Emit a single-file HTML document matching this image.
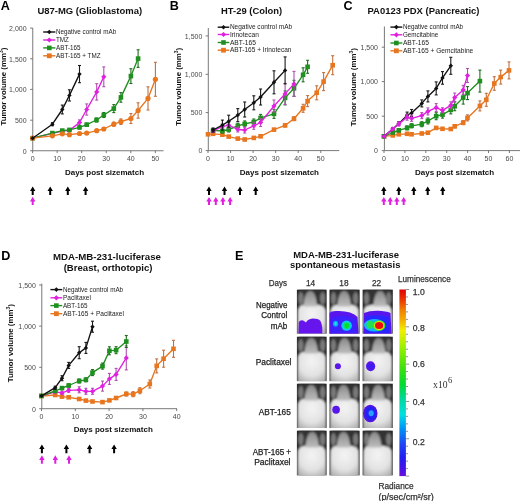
<!DOCTYPE html>
<html><head><meta charset="utf-8"><style>
html,body{margin:0;padding:0;background:#fff;}
body{width:520px;height:501px;overflow:hidden;}
svg{display:block;filter:blur(0.3px);}
</style></head><body>
<svg width="520" height="501" viewBox="0 0 520 501">
<rect width="520" height="501" fill="#fff"/>
<text x="5.40" y="9.81" font-size="12.6" font-weight="bold" text-anchor="middle" fill="#000" font-family="Liberation Sans, sans-serif" >A</text>
<text x="174.20" y="9.81" font-size="12.6" font-weight="bold" text-anchor="middle" fill="#000" font-family="Liberation Sans, sans-serif" >B</text>
<text x="348.10" y="9.81" font-size="12.6" font-weight="bold" text-anchor="middle" fill="#000" font-family="Liberation Sans, sans-serif" >C</text>
<text x="5.80" y="259.61" font-size="12.6" font-weight="bold" text-anchor="middle" fill="#000" font-family="Liberation Sans, sans-serif" >D</text>
<text x="239.25" y="260.16" font-size="12.6" font-weight="bold" text-anchor="middle" fill="#000" font-family="Liberation Sans, sans-serif" >E</text>
<text x="89.75" y="13.99" font-size="9.6" font-weight="bold" text-anchor="middle" fill="#111" font-family="Liberation Sans, sans-serif"  textLength="104.7" lengthAdjust="spacingAndGlyphs">U87-MG (Glioblastoma)</text>
<text x="251.60" y="13.94" font-size="9.6" font-weight="bold" text-anchor="middle" fill="#111" font-family="Liberation Sans, sans-serif"  textLength="61" lengthAdjust="spacingAndGlyphs">HT-29 (Colon)</text>
<text x="423.50" y="14.04" font-size="9.6" font-weight="bold" text-anchor="middle" fill="#111" font-family="Liberation Sans, sans-serif"  textLength="112" lengthAdjust="spacingAndGlyphs">PA0123 PDX (Pancreatic)</text>
<text x="107.00" y="259.84" font-size="9.6" font-weight="bold" text-anchor="middle" fill="#111" font-family="Liberation Sans, sans-serif"  textLength="108" lengthAdjust="spacingAndGlyphs">MDA-MB-231-luciferase</text>
<text x="108.10" y="271.04" font-size="9.6" font-weight="bold" text-anchor="middle" fill="#111" font-family="Liberation Sans, sans-serif"  textLength="88.8" lengthAdjust="spacingAndGlyphs">(Breast, orthotopic)</text>
<line x1="32.75" y1="28.00" x2="32.75" y2="150.75" stroke="#6a6a6a" stroke-width="0.9" />
<line x1="32.75" y1="150.75" x2="163.50" y2="150.75" stroke="#6a6a6a" stroke-width="0.9" />
<line x1="30.15" y1="150.75" x2="32.75" y2="150.75" stroke="#6a6a6a" stroke-width="0.9" />
<line x1="30.15" y1="120.20" x2="32.75" y2="120.20" stroke="#6a6a6a" stroke-width="0.9" />
<line x1="30.15" y1="89.40" x2="32.75" y2="89.40" stroke="#6a6a6a" stroke-width="0.9" />
<line x1="30.15" y1="58.80" x2="32.75" y2="58.80" stroke="#6a6a6a" stroke-width="0.9" />
<line x1="30.15" y1="28.10" x2="32.75" y2="28.10" stroke="#6a6a6a" stroke-width="0.9" />
<line x1="32.60" y1="150.75" x2="32.60" y2="153.15" stroke="#6a6a6a" stroke-width="0.9" />
<line x1="57.15" y1="150.75" x2="57.15" y2="153.15" stroke="#6a6a6a" stroke-width="0.9" />
<line x1="81.70" y1="150.75" x2="81.70" y2="153.15" stroke="#6a6a6a" stroke-width="0.9" />
<line x1="106.25" y1="150.75" x2="106.25" y2="153.15" stroke="#6a6a6a" stroke-width="0.9" />
<line x1="130.80" y1="150.75" x2="130.80" y2="153.15" stroke="#6a6a6a" stroke-width="0.9" />
<line x1="155.35" y1="150.75" x2="155.35" y2="153.15" stroke="#6a6a6a" stroke-width="0.9" />
<text x="26.60" y="153.63" font-size="7.0" font-weight="normal" text-anchor="end" fill="#4a4a4a" font-family="Liberation Sans, sans-serif"  transform="matrix(1 0 0 1.15 0 -23.045)">0</text>
<text x="26.60" y="123.08" font-size="7.0" font-weight="normal" text-anchor="end" fill="#4a4a4a" font-family="Liberation Sans, sans-serif"  transform="matrix(1 0 0 1.15 0 -18.462)">500</text>
<text x="26.60" y="92.28" font-size="7.0" font-weight="normal" text-anchor="end" fill="#4a4a4a" font-family="Liberation Sans, sans-serif"  transform="matrix(1 0 0 1.15 0 -13.842)">1,000</text>
<text x="26.60" y="61.68" font-size="7.0" font-weight="normal" text-anchor="end" fill="#4a4a4a" font-family="Liberation Sans, sans-serif"  transform="matrix(1 0 0 1.15 0 -9.252)">1,500</text>
<text x="26.60" y="30.98" font-size="7.0" font-weight="normal" text-anchor="end" fill="#4a4a4a" font-family="Liberation Sans, sans-serif"  transform="matrix(1 0 0 1.15 0 -4.647)">2,000</text>
<text x="32.60" y="161.43" font-size="7.0" font-weight="normal" text-anchor="middle" fill="#4a4a4a" font-family="Liberation Sans, sans-serif"  transform="matrix(1 0 0 1.15 0 -24.215)">0</text>
<text x="57.15" y="161.43" font-size="7.0" font-weight="normal" text-anchor="middle" fill="#4a4a4a" font-family="Liberation Sans, sans-serif"  transform="matrix(1 0 0 1.15 0 -24.215)">10</text>
<text x="81.70" y="161.43" font-size="7.0" font-weight="normal" text-anchor="middle" fill="#4a4a4a" font-family="Liberation Sans, sans-serif"  transform="matrix(1 0 0 1.15 0 -24.215)">20</text>
<text x="106.25" y="161.43" font-size="7.0" font-weight="normal" text-anchor="middle" fill="#4a4a4a" font-family="Liberation Sans, sans-serif"  transform="matrix(1 0 0 1.15 0 -24.215)">30</text>
<text x="130.80" y="161.43" font-size="7.0" font-weight="normal" text-anchor="middle" fill="#4a4a4a" font-family="Liberation Sans, sans-serif"  transform="matrix(1 0 0 1.15 0 -24.215)">40</text>
<text x="155.35" y="161.43" font-size="7.0" font-weight="normal" text-anchor="middle" fill="#4a4a4a" font-family="Liberation Sans, sans-serif"  transform="matrix(1 0 0 1.15 0 -24.215)">50</text>
<text transform="translate(5.73,86.60) rotate(-90)" x="0" y="0" font-size="7.9" font-weight="bold" text-anchor="middle" fill="#111" font-family="Liberation Sans">Tumor volume (mm<tspan font-size="4.90" dy="-3.00">3</tspan><tspan dy="3.00">)</tspan></text>
<text x="104.50" y="175.36" font-size="8.0" font-weight="bold" text-anchor="middle" fill="#111" font-family="Liberation Sans, sans-serif" >Days post sizematch</text>
<line x1="43.20" y1="32.00" x2="55.40" y2="32.00" stroke="#111111" stroke-width="1.4" />
<path d="M49.30 29.70L51.60 32.00L49.30 34.30L47.00 32.00Z" fill="#111111"/>
<text x="56.00" y="34.26" font-size="6.3" font-weight="normal" text-anchor="start" fill="#222" font-family="Liberation Sans, sans-serif" >Negative control mAb</text>
<line x1="43.20" y1="40.00" x2="55.40" y2="40.00" stroke="#e020e0" stroke-width="1.4" />
<path d="M49.30 37.40L51.90 40.00L49.30 42.60L46.70 40.00Z" fill="#e020e0"/>
<text x="56.00" y="42.26" font-size="6.3" font-weight="normal" text-anchor="start" fill="#222" font-family="Liberation Sans, sans-serif" >TMZ</text>
<line x1="43.20" y1="47.90" x2="55.40" y2="47.90" stroke="#1f8f1f" stroke-width="1.4" />
<rect x="47.00" y="45.60" width="4.60" height="4.60" fill="#1f8f1f"/>
<text x="56.00" y="50.16" font-size="6.3" font-weight="normal" text-anchor="start" fill="#222" font-family="Liberation Sans, sans-serif" >ABT-165</text>
<line x1="43.20" y1="55.80" x2="55.40" y2="55.80" stroke="#e8761e" stroke-width="1.4" />
<rect x="46.90" y="53.40" width="4.80" height="4.80" fill="#e8761e"/>
<text x="56.00" y="58.06" font-size="6.3" font-weight="normal" text-anchor="start" fill="#222" font-family="Liberation Sans, sans-serif" >ABT-165 + TMZ</text>
<path d="M32.60 138.20L52.40 133.30L62.30 131.00L69.40 130.40L79.50 122.60L86.70 109.50L96.70 91.90L103.80 76.80" fill="none" stroke="#e020e0" stroke-width="1.35" stroke-linejoin="round"/>
<line x1="52.40" y1="132.30" x2="52.40" y2="134.30" stroke="#b050b0" stroke-width="1.1" />
<line x1="50.90" y1="132.30" x2="53.90" y2="132.30" stroke="#b050b0" stroke-width="1.1" />
<line x1="50.90" y1="134.30" x2="53.90" y2="134.30" stroke="#b050b0" stroke-width="1.1" />
<line x1="62.30" y1="130.00" x2="62.30" y2="132.00" stroke="#b050b0" stroke-width="1.1" />
<line x1="60.80" y1="130.00" x2="63.80" y2="130.00" stroke="#b050b0" stroke-width="1.1" />
<line x1="60.80" y1="132.00" x2="63.80" y2="132.00" stroke="#b050b0" stroke-width="1.1" />
<line x1="69.40" y1="129.40" x2="69.40" y2="131.40" stroke="#b050b0" stroke-width="1.1" />
<line x1="67.90" y1="129.40" x2="70.90" y2="129.40" stroke="#b050b0" stroke-width="1.1" />
<line x1="67.90" y1="131.40" x2="70.90" y2="131.40" stroke="#b050b0" stroke-width="1.1" />
<line x1="79.50" y1="119.90" x2="79.50" y2="125.30" stroke="#b050b0" stroke-width="1.1" />
<line x1="78.00" y1="119.90" x2="81.00" y2="119.90" stroke="#b050b0" stroke-width="1.1" />
<line x1="78.00" y1="125.30" x2="81.00" y2="125.30" stroke="#b050b0" stroke-width="1.1" />
<line x1="86.70" y1="103.90" x2="86.70" y2="115.10" stroke="#b050b0" stroke-width="1.1" />
<line x1="85.20" y1="103.90" x2="88.20" y2="103.90" stroke="#b050b0" stroke-width="1.1" />
<line x1="85.20" y1="115.10" x2="88.20" y2="115.10" stroke="#b050b0" stroke-width="1.1" />
<line x1="96.70" y1="83.70" x2="96.70" y2="100.10" stroke="#b050b0" stroke-width="1.1" />
<line x1="95.20" y1="83.70" x2="98.20" y2="83.70" stroke="#b050b0" stroke-width="1.1" />
<line x1="95.20" y1="100.10" x2="98.20" y2="100.10" stroke="#b050b0" stroke-width="1.1" />
<line x1="103.80" y1="66.90" x2="103.80" y2="86.70" stroke="#b050b0" stroke-width="1.1" />
<line x1="102.30" y1="66.90" x2="105.30" y2="66.90" stroke="#b050b0" stroke-width="1.1" />
<line x1="102.30" y1="86.70" x2="105.30" y2="86.70" stroke="#b050b0" stroke-width="1.1" />
<path d="M32.60 135.60L35.20 138.20L32.60 140.80L30.00 138.20Z" fill="#e020e0"/>
<path d="M52.40 130.70L55.00 133.30L52.40 135.90L49.80 133.30Z" fill="#e020e0"/>
<path d="M62.30 128.40L64.90 131.00L62.30 133.60L59.70 131.00Z" fill="#e020e0"/>
<path d="M69.40 127.80L72.00 130.40L69.40 133.00L66.80 130.40Z" fill="#e020e0"/>
<path d="M79.50 120.00L82.10 122.60L79.50 125.20L76.90 122.60Z" fill="#e020e0"/>
<path d="M86.70 106.90L89.30 109.50L86.70 112.10L84.10 109.50Z" fill="#e020e0"/>
<path d="M96.70 89.30L99.30 91.90L96.70 94.50L94.10 91.90Z" fill="#e020e0"/>
<path d="M103.80 74.20L106.40 76.80L103.80 79.40L101.20 76.80Z" fill="#e020e0"/>
<path d="M32.60 138.20L52.40 133.10L62.30 130.60L69.40 129.90L79.50 127.40L86.70 124.70L96.50 120.00L103.80 115.00L113.80 108.60L120.90 97.40L130.90 76.10L138.10 58.60" fill="none" stroke="#1f8f1f" stroke-width="1.35" stroke-linejoin="round"/>
<line x1="52.40" y1="132.10" x2="52.40" y2="134.10" stroke="#1e6e1e" stroke-width="1.1" />
<line x1="50.90" y1="132.10" x2="53.90" y2="132.10" stroke="#1e6e1e" stroke-width="1.1" />
<line x1="50.90" y1="134.10" x2="53.90" y2="134.10" stroke="#1e6e1e" stroke-width="1.1" />
<line x1="62.30" y1="129.60" x2="62.30" y2="131.60" stroke="#1e6e1e" stroke-width="1.1" />
<line x1="60.80" y1="129.60" x2="63.80" y2="129.60" stroke="#1e6e1e" stroke-width="1.1" />
<line x1="60.80" y1="131.60" x2="63.80" y2="131.60" stroke="#1e6e1e" stroke-width="1.1" />
<line x1="69.40" y1="128.90" x2="69.40" y2="130.90" stroke="#1e6e1e" stroke-width="1.1" />
<line x1="67.90" y1="128.90" x2="70.90" y2="128.90" stroke="#1e6e1e" stroke-width="1.1" />
<line x1="67.90" y1="130.90" x2="70.90" y2="130.90" stroke="#1e6e1e" stroke-width="1.1" />
<line x1="79.50" y1="125.90" x2="79.50" y2="128.90" stroke="#1e6e1e" stroke-width="1.1" />
<line x1="78.00" y1="125.90" x2="81.00" y2="125.90" stroke="#1e6e1e" stroke-width="1.1" />
<line x1="78.00" y1="128.90" x2="81.00" y2="128.90" stroke="#1e6e1e" stroke-width="1.1" />
<line x1="86.70" y1="123.20" x2="86.70" y2="126.20" stroke="#1e6e1e" stroke-width="1.1" />
<line x1="85.20" y1="123.20" x2="88.20" y2="123.20" stroke="#1e6e1e" stroke-width="1.1" />
<line x1="85.20" y1="126.20" x2="88.20" y2="126.20" stroke="#1e6e1e" stroke-width="1.1" />
<line x1="96.50" y1="118.00" x2="96.50" y2="122.00" stroke="#1e6e1e" stroke-width="1.1" />
<line x1="95.00" y1="118.00" x2="98.00" y2="118.00" stroke="#1e6e1e" stroke-width="1.1" />
<line x1="95.00" y1="122.00" x2="98.00" y2="122.00" stroke="#1e6e1e" stroke-width="1.1" />
<line x1="103.80" y1="112.50" x2="103.80" y2="117.50" stroke="#1e6e1e" stroke-width="1.1" />
<line x1="102.30" y1="112.50" x2="105.30" y2="112.50" stroke="#1e6e1e" stroke-width="1.1" />
<line x1="102.30" y1="117.50" x2="105.30" y2="117.50" stroke="#1e6e1e" stroke-width="1.1" />
<line x1="113.80" y1="104.60" x2="113.80" y2="112.60" stroke="#1e6e1e" stroke-width="1.1" />
<line x1="112.30" y1="104.60" x2="115.30" y2="104.60" stroke="#1e6e1e" stroke-width="1.1" />
<line x1="112.30" y1="112.60" x2="115.30" y2="112.60" stroke="#1e6e1e" stroke-width="1.1" />
<line x1="120.90" y1="92.60" x2="120.90" y2="102.20" stroke="#1e6e1e" stroke-width="1.1" />
<line x1="119.40" y1="92.60" x2="122.40" y2="92.60" stroke="#1e6e1e" stroke-width="1.1" />
<line x1="119.40" y1="102.20" x2="122.40" y2="102.20" stroke="#1e6e1e" stroke-width="1.1" />
<line x1="130.90" y1="68.70" x2="130.90" y2="83.50" stroke="#1e6e1e" stroke-width="1.1" />
<line x1="129.40" y1="68.70" x2="132.40" y2="68.70" stroke="#1e6e1e" stroke-width="1.1" />
<line x1="129.40" y1="83.50" x2="132.40" y2="83.50" stroke="#1e6e1e" stroke-width="1.1" />
<line x1="138.10" y1="49.80" x2="138.10" y2="67.40" stroke="#1e6e1e" stroke-width="1.1" />
<line x1="136.60" y1="49.80" x2="139.60" y2="49.80" stroke="#1e6e1e" stroke-width="1.1" />
<line x1="136.60" y1="67.40" x2="139.60" y2="67.40" stroke="#1e6e1e" stroke-width="1.1" />
<rect x="30.30" y="135.90" width="4.60" height="4.60" fill="#1f8f1f"/>
<rect x="50.10" y="130.80" width="4.60" height="4.60" fill="#1f8f1f"/>
<rect x="60.00" y="128.30" width="4.60" height="4.60" fill="#1f8f1f"/>
<rect x="67.10" y="127.60" width="4.60" height="4.60" fill="#1f8f1f"/>
<rect x="77.20" y="125.10" width="4.60" height="4.60" fill="#1f8f1f"/>
<rect x="84.40" y="122.40" width="4.60" height="4.60" fill="#1f8f1f"/>
<rect x="94.20" y="117.70" width="4.60" height="4.60" fill="#1f8f1f"/>
<rect x="101.50" y="112.70" width="4.60" height="4.60" fill="#1f8f1f"/>
<rect x="111.50" y="106.30" width="4.60" height="4.60" fill="#1f8f1f"/>
<rect x="118.60" y="95.10" width="4.60" height="4.60" fill="#1f8f1f"/>
<rect x="128.60" y="73.80" width="4.60" height="4.60" fill="#1f8f1f"/>
<rect x="135.80" y="56.30" width="4.60" height="4.60" fill="#1f8f1f"/>
<path d="M32.60 138.20L52.40 135.80L62.30 133.80L69.40 134.70L79.50 133.50L86.70 133.10L96.70 130.70L103.80 129.00L113.80 124.20L120.90 121.70L130.90 118.50L138.10 110.50L148.00 98.40L155.40 79.30" fill="none" stroke="#e8761e" stroke-width="1.35" stroke-linejoin="round"/>
<line x1="96.70" y1="129.70" x2="96.70" y2="131.70" stroke="#c07040" stroke-width="1.1" />
<line x1="95.20" y1="129.70" x2="98.20" y2="129.70" stroke="#c07040" stroke-width="1.1" />
<line x1="95.20" y1="131.70" x2="98.20" y2="131.70" stroke="#c07040" stroke-width="1.1" />
<line x1="103.80" y1="128.00" x2="103.80" y2="130.00" stroke="#c07040" stroke-width="1.1" />
<line x1="102.30" y1="128.00" x2="105.30" y2="128.00" stroke="#c07040" stroke-width="1.1" />
<line x1="102.30" y1="130.00" x2="105.30" y2="130.00" stroke="#c07040" stroke-width="1.1" />
<line x1="113.80" y1="122.20" x2="113.80" y2="126.20" stroke="#c07040" stroke-width="1.1" />
<line x1="112.30" y1="122.20" x2="115.30" y2="122.20" stroke="#c07040" stroke-width="1.1" />
<line x1="112.30" y1="126.20" x2="115.30" y2="126.20" stroke="#c07040" stroke-width="1.1" />
<line x1="120.90" y1="118.90" x2="120.90" y2="124.50" stroke="#c07040" stroke-width="1.1" />
<line x1="119.40" y1="118.90" x2="122.40" y2="118.90" stroke="#c07040" stroke-width="1.1" />
<line x1="119.40" y1="124.50" x2="122.40" y2="124.50" stroke="#c07040" stroke-width="1.1" />
<line x1="130.90" y1="113.50" x2="130.90" y2="123.50" stroke="#c07040" stroke-width="1.1" />
<line x1="129.40" y1="113.50" x2="132.40" y2="113.50" stroke="#c07040" stroke-width="1.1" />
<line x1="129.40" y1="123.50" x2="132.40" y2="123.50" stroke="#c07040" stroke-width="1.1" />
<line x1="138.10" y1="102.80" x2="138.10" y2="118.20" stroke="#c07040" stroke-width="1.1" />
<line x1="136.60" y1="102.80" x2="139.60" y2="102.80" stroke="#c07040" stroke-width="1.1" />
<line x1="136.60" y1="118.20" x2="139.60" y2="118.20" stroke="#c07040" stroke-width="1.1" />
<line x1="148.00" y1="86.80" x2="148.00" y2="110.00" stroke="#c07040" stroke-width="1.1" />
<line x1="146.50" y1="86.80" x2="149.50" y2="86.80" stroke="#c07040" stroke-width="1.1" />
<line x1="146.50" y1="110.00" x2="149.50" y2="110.00" stroke="#c07040" stroke-width="1.1" />
<line x1="155.40" y1="62.30" x2="155.40" y2="96.30" stroke="#c07040" stroke-width="1.1" />
<line x1="153.90" y1="62.30" x2="156.90" y2="62.30" stroke="#c07040" stroke-width="1.1" />
<line x1="153.90" y1="96.30" x2="156.90" y2="96.30" stroke="#c07040" stroke-width="1.1" />
<circle cx="32.60" cy="138.20" r="2.60" fill="#e8761e"/>
<circle cx="52.40" cy="135.80" r="2.60" fill="#e8761e"/>
<circle cx="62.30" cy="133.80" r="2.60" fill="#e8761e"/>
<circle cx="69.40" cy="134.70" r="2.60" fill="#e8761e"/>
<circle cx="79.50" cy="133.50" r="2.60" fill="#e8761e"/>
<circle cx="86.70" cy="133.10" r="2.60" fill="#e8761e"/>
<circle cx="96.70" cy="130.70" r="2.60" fill="#e8761e"/>
<circle cx="103.80" cy="129.00" r="2.60" fill="#e8761e"/>
<circle cx="113.80" cy="124.20" r="2.60" fill="#e8761e"/>
<circle cx="120.90" cy="121.70" r="2.60" fill="#e8761e"/>
<circle cx="130.90" cy="118.50" r="2.60" fill="#e8761e"/>
<circle cx="138.10" cy="110.50" r="2.60" fill="#e8761e"/>
<circle cx="148.00" cy="98.40" r="2.60" fill="#e8761e"/>
<circle cx="155.40" cy="79.30" r="2.60" fill="#e8761e"/>
<path d="M32.60 138.20L52.40 124.20L62.30 109.50L69.40 95.40L79.50 74.10" fill="none" stroke="#111111" stroke-width="1.35" stroke-linejoin="round"/>
<line x1="52.40" y1="122.70" x2="52.40" y2="125.70" stroke="#1a1a1a" stroke-width="1.1" />
<line x1="50.90" y1="122.70" x2="53.90" y2="122.70" stroke="#1a1a1a" stroke-width="1.1" />
<line x1="50.90" y1="125.70" x2="53.90" y2="125.70" stroke="#1a1a1a" stroke-width="1.1" />
<line x1="62.30" y1="105.10" x2="62.30" y2="113.90" stroke="#1a1a1a" stroke-width="1.1" />
<line x1="60.80" y1="105.10" x2="63.80" y2="105.10" stroke="#1a1a1a" stroke-width="1.1" />
<line x1="60.80" y1="113.90" x2="63.80" y2="113.90" stroke="#1a1a1a" stroke-width="1.1" />
<line x1="69.40" y1="89.80" x2="69.40" y2="101.00" stroke="#1a1a1a" stroke-width="1.1" />
<line x1="67.90" y1="89.80" x2="70.90" y2="89.80" stroke="#1a1a1a" stroke-width="1.1" />
<line x1="67.90" y1="101.00" x2="70.90" y2="101.00" stroke="#1a1a1a" stroke-width="1.1" />
<line x1="79.50" y1="65.50" x2="79.50" y2="82.70" stroke="#1a1a1a" stroke-width="1.1" />
<line x1="78.00" y1="65.50" x2="81.00" y2="65.50" stroke="#1a1a1a" stroke-width="1.1" />
<line x1="78.00" y1="82.70" x2="81.00" y2="82.70" stroke="#1a1a1a" stroke-width="1.1" />
<path d="M32.60 136.00L34.80 138.20L32.60 140.40L30.40 138.20Z" fill="#111111"/>
<path d="M52.40 122.00L54.60 124.20L52.40 126.40L50.20 124.20Z" fill="#111111"/>
<path d="M62.30 107.30L64.50 109.50L62.30 111.70L60.10 109.50Z" fill="#111111"/>
<path d="M69.40 93.20L71.60 95.40L69.40 97.60L67.20 95.40Z" fill="#111111"/>
<path d="M79.50 71.90L81.70 74.10L79.50 76.30L77.30 74.10Z" fill="#111111"/>
<path d="M32.70 186.50L35.40 191.10L33.70 191.10L33.70 194.90L31.70 194.90L31.70 191.10L30.00 191.10Z" fill="#000"/>
<path d="M50.20 186.50L52.90 191.10L51.20 191.10L51.20 194.90L49.20 194.90L49.20 191.10L47.50 191.10Z" fill="#000"/>
<path d="M67.80 186.50L70.50 191.10L68.80 191.10L68.80 194.90L66.80 194.90L66.80 191.10L65.10 191.10Z" fill="#000"/>
<path d="M85.60 186.50L88.30 191.10L86.60 191.10L86.60 194.90L84.60 194.90L84.60 191.10L82.90 191.10Z" fill="#000"/>
<path d="M32.70 196.80L35.40 201.40L33.70 201.40L33.70 204.90L31.70 204.90L31.70 201.40L30.00 201.40Z" fill="#e020e0"/>
<line x1="208.30" y1="28.00" x2="208.30" y2="150.60" stroke="#6a6a6a" stroke-width="0.9" />
<line x1="208.30" y1="150.60" x2="339.20" y2="150.60" stroke="#6a6a6a" stroke-width="0.9" />
<line x1="205.70" y1="150.60" x2="208.30" y2="150.60" stroke="#6a6a6a" stroke-width="0.9" />
<line x1="205.70" y1="112.60" x2="208.30" y2="112.60" stroke="#6a6a6a" stroke-width="0.9" />
<line x1="205.70" y1="74.30" x2="208.30" y2="74.30" stroke="#6a6a6a" stroke-width="0.9" />
<line x1="205.70" y1="35.90" x2="208.30" y2="35.90" stroke="#6a6a6a" stroke-width="0.9" />
<line x1="208.00" y1="150.60" x2="208.00" y2="153.00" stroke="#6a6a6a" stroke-width="0.9" />
<line x1="230.55" y1="150.60" x2="230.55" y2="153.00" stroke="#6a6a6a" stroke-width="0.9" />
<line x1="253.10" y1="150.60" x2="253.10" y2="153.00" stroke="#6a6a6a" stroke-width="0.9" />
<line x1="275.65" y1="150.60" x2="275.65" y2="153.00" stroke="#6a6a6a" stroke-width="0.9" />
<line x1="298.20" y1="150.60" x2="298.20" y2="153.00" stroke="#6a6a6a" stroke-width="0.9" />
<line x1="320.75" y1="150.60" x2="320.75" y2="153.00" stroke="#6a6a6a" stroke-width="0.9" />
<text x="202.30" y="153.48" font-size="7.0" font-weight="normal" text-anchor="end" fill="#4a4a4a" font-family="Liberation Sans, sans-serif"  transform="matrix(1 0 0 1.15 0 -23.022)">0</text>
<text x="202.30" y="115.48" font-size="7.0" font-weight="normal" text-anchor="end" fill="#4a4a4a" font-family="Liberation Sans, sans-serif"  transform="matrix(1 0 0 1.15 0 -17.322)">500</text>
<text x="202.30" y="77.18" font-size="7.0" font-weight="normal" text-anchor="end" fill="#4a4a4a" font-family="Liberation Sans, sans-serif"  transform="matrix(1 0 0 1.15 0 -11.577)">1,000</text>
<text x="202.30" y="38.78" font-size="7.0" font-weight="normal" text-anchor="end" fill="#4a4a4a" font-family="Liberation Sans, sans-serif"  transform="matrix(1 0 0 1.15 0 -5.817)">1,500</text>
<text x="208.00" y="161.28" font-size="7.0" font-weight="normal" text-anchor="middle" fill="#4a4a4a" font-family="Liberation Sans, sans-serif"  transform="matrix(1 0 0 1.15 0 -24.192)">0</text>
<text x="230.55" y="161.28" font-size="7.0" font-weight="normal" text-anchor="middle" fill="#4a4a4a" font-family="Liberation Sans, sans-serif"  transform="matrix(1 0 0 1.15 0 -24.192)">10</text>
<text x="253.10" y="161.28" font-size="7.0" font-weight="normal" text-anchor="middle" fill="#4a4a4a" font-family="Liberation Sans, sans-serif"  transform="matrix(1 0 0 1.15 0 -24.192)">20</text>
<text x="275.65" y="161.28" font-size="7.0" font-weight="normal" text-anchor="middle" fill="#4a4a4a" font-family="Liberation Sans, sans-serif"  transform="matrix(1 0 0 1.15 0 -24.192)">30</text>
<text x="298.20" y="161.28" font-size="7.0" font-weight="normal" text-anchor="middle" fill="#4a4a4a" font-family="Liberation Sans, sans-serif"  transform="matrix(1 0 0 1.15 0 -24.192)">40</text>
<text x="320.75" y="161.28" font-size="7.0" font-weight="normal" text-anchor="middle" fill="#4a4a4a" font-family="Liberation Sans, sans-serif"  transform="matrix(1 0 0 1.15 0 -24.192)">50</text>
<text transform="translate(181.13,86.75) rotate(-90)" x="0" y="0" font-size="7.9" font-weight="bold" text-anchor="middle" fill="#111" font-family="Liberation Sans">Tumor volume (mm<tspan font-size="4.90" dy="-3.00">3</tspan><tspan dy="3.00">)</tspan></text>
<text x="279.40" y="175.46" font-size="8.0" font-weight="bold" text-anchor="middle" fill="#111" font-family="Liberation Sans, sans-serif" >Days post sizematch</text>
<line x1="217.70" y1="27.20" x2="229.30" y2="27.20" stroke="#111111" stroke-width="1.4" />
<path d="M223.50 24.90L225.80 27.20L223.50 29.50L221.20 27.20Z" fill="#111111"/>
<text x="229.90" y="29.46" font-size="6.3" font-weight="normal" text-anchor="start" fill="#222" font-family="Liberation Sans, sans-serif"  textLength="62.2" lengthAdjust="spacingAndGlyphs">Negative control mAb</text>
<line x1="217.70" y1="34.50" x2="229.30" y2="34.50" stroke="#e020e0" stroke-width="1.4" />
<path d="M223.50 31.90L226.10 34.50L223.50 37.10L220.90 34.50Z" fill="#e020e0"/>
<text x="229.90" y="36.76" font-size="6.3" font-weight="normal" text-anchor="start" fill="#222" font-family="Liberation Sans, sans-serif"  textLength="29" lengthAdjust="spacingAndGlyphs">Irinotecan</text>
<line x1="217.70" y1="42.50" x2="229.30" y2="42.50" stroke="#1f8f1f" stroke-width="1.4" />
<rect x="221.20" y="40.20" width="4.60" height="4.60" fill="#1f8f1f"/>
<text x="229.90" y="44.76" font-size="6.3" font-weight="normal" text-anchor="start" fill="#222" font-family="Liberation Sans, sans-serif"  textLength="26" lengthAdjust="spacingAndGlyphs">ABT-165</text>
<line x1="217.70" y1="50.20" x2="229.30" y2="50.20" stroke="#e8761e" stroke-width="1.4" />
<rect x="221.10" y="47.80" width="4.80" height="4.80" fill="#e8761e"/>
<text x="229.90" y="52.46" font-size="6.3" font-weight="normal" text-anchor="start" fill="#222" font-family="Liberation Sans, sans-serif"  textLength="61.6" lengthAdjust="spacingAndGlyphs">ABT-165 + Irinotecan</text>
<path d="M208.00 134.30L213.10 133.80L222.40 134.70L228.70 136.60L237.80 138.60L244.70 139.50L253.80 137.90L260.60 136.30L274.00 129.60L285.10 125.40L294.00 118.70L303.10 108.30L307.60 101.10L316.70 92.80L323.60 81.60L332.70 65.20" fill="none" stroke="#e8761e" stroke-width="1.35" stroke-linejoin="round"/>
<line x1="274.00" y1="128.60" x2="274.00" y2="130.60" stroke="#c07040" stroke-width="1.1" />
<line x1="272.50" y1="128.60" x2="275.50" y2="128.60" stroke="#c07040" stroke-width="1.1" />
<line x1="272.50" y1="130.60" x2="275.50" y2="130.60" stroke="#c07040" stroke-width="1.1" />
<line x1="285.10" y1="123.90" x2="285.10" y2="126.90" stroke="#c07040" stroke-width="1.1" />
<line x1="283.60" y1="123.90" x2="286.60" y2="123.90" stroke="#c07040" stroke-width="1.1" />
<line x1="283.60" y1="126.90" x2="286.60" y2="126.90" stroke="#c07040" stroke-width="1.1" />
<line x1="294.00" y1="116.70" x2="294.00" y2="120.70" stroke="#c07040" stroke-width="1.1" />
<line x1="292.50" y1="116.70" x2="295.50" y2="116.70" stroke="#c07040" stroke-width="1.1" />
<line x1="292.50" y1="120.70" x2="295.50" y2="120.70" stroke="#c07040" stroke-width="1.1" />
<line x1="303.10" y1="104.30" x2="303.10" y2="112.30" stroke="#c07040" stroke-width="1.1" />
<line x1="301.60" y1="104.30" x2="304.60" y2="104.30" stroke="#c07040" stroke-width="1.1" />
<line x1="301.60" y1="112.30" x2="304.60" y2="112.30" stroke="#c07040" stroke-width="1.1" />
<line x1="307.60" y1="95.60" x2="307.60" y2="106.60" stroke="#c07040" stroke-width="1.1" />
<line x1="306.10" y1="95.60" x2="309.10" y2="95.60" stroke="#c07040" stroke-width="1.1" />
<line x1="306.10" y1="106.60" x2="309.10" y2="106.60" stroke="#c07040" stroke-width="1.1" />
<line x1="316.70" y1="85.80" x2="316.70" y2="99.80" stroke="#c07040" stroke-width="1.1" />
<line x1="315.20" y1="85.80" x2="318.20" y2="85.80" stroke="#c07040" stroke-width="1.1" />
<line x1="315.20" y1="99.80" x2="318.20" y2="99.80" stroke="#c07040" stroke-width="1.1" />
<line x1="323.60" y1="72.60" x2="323.60" y2="90.60" stroke="#c07040" stroke-width="1.1" />
<line x1="322.10" y1="72.60" x2="325.10" y2="72.60" stroke="#c07040" stroke-width="1.1" />
<line x1="322.10" y1="90.60" x2="325.10" y2="90.60" stroke="#c07040" stroke-width="1.1" />
<line x1="332.70" y1="55.70" x2="332.70" y2="74.70" stroke="#c07040" stroke-width="1.1" />
<line x1="331.20" y1="55.70" x2="334.20" y2="55.70" stroke="#c07040" stroke-width="1.1" />
<line x1="331.20" y1="74.70" x2="334.20" y2="74.70" stroke="#c07040" stroke-width="1.1" />
<rect x="205.70" y="132.00" width="4.60" height="4.60" fill="#e8761e"/>
<rect x="210.80" y="131.50" width="4.60" height="4.60" fill="#e8761e"/>
<rect x="220.10" y="132.40" width="4.60" height="4.60" fill="#e8761e"/>
<rect x="226.40" y="134.30" width="4.60" height="4.60" fill="#e8761e"/>
<rect x="235.50" y="136.30" width="4.60" height="4.60" fill="#e8761e"/>
<rect x="242.40" y="137.20" width="4.60" height="4.60" fill="#e8761e"/>
<rect x="251.50" y="135.60" width="4.60" height="4.60" fill="#e8761e"/>
<rect x="258.30" y="134.00" width="4.60" height="4.60" fill="#e8761e"/>
<rect x="271.70" y="127.30" width="4.60" height="4.60" fill="#e8761e"/>
<rect x="282.80" y="123.10" width="4.60" height="4.60" fill="#e8761e"/>
<rect x="291.70" y="116.40" width="4.60" height="4.60" fill="#e8761e"/>
<rect x="300.80" y="106.00" width="4.60" height="4.60" fill="#e8761e"/>
<rect x="305.30" y="98.80" width="4.60" height="4.60" fill="#e8761e"/>
<rect x="314.40" y="90.50" width="4.60" height="4.60" fill="#e8761e"/>
<rect x="321.30" y="79.30" width="4.60" height="4.60" fill="#e8761e"/>
<rect x="330.40" y="62.90" width="4.60" height="4.60" fill="#e8761e"/>
<path d="M213.10 130.30L222.40 131.00L228.70 129.50L237.80 125.80L244.70 123.90L253.80 122.00L260.60 117.90L274.00 113.90L285.10 97.90L294.00 88.30L303.10 74.80L307.60 66.80" fill="none" stroke="#1f8f1f" stroke-width="1.35" stroke-linejoin="round"/>
<line x1="213.10" y1="129.30" x2="213.10" y2="131.30" stroke="#1e6e1e" stroke-width="1.1" />
<line x1="211.60" y1="129.30" x2="214.60" y2="129.30" stroke="#1e6e1e" stroke-width="1.1" />
<line x1="211.60" y1="131.30" x2="214.60" y2="131.30" stroke="#1e6e1e" stroke-width="1.1" />
<line x1="222.40" y1="129.00" x2="222.40" y2="133.00" stroke="#1e6e1e" stroke-width="1.1" />
<line x1="220.90" y1="129.00" x2="223.90" y2="129.00" stroke="#1e6e1e" stroke-width="1.1" />
<line x1="220.90" y1="133.00" x2="223.90" y2="133.00" stroke="#1e6e1e" stroke-width="1.1" />
<line x1="228.70" y1="127.00" x2="228.70" y2="132.00" stroke="#1e6e1e" stroke-width="1.1" />
<line x1="227.20" y1="127.00" x2="230.20" y2="127.00" stroke="#1e6e1e" stroke-width="1.1" />
<line x1="227.20" y1="132.00" x2="230.20" y2="132.00" stroke="#1e6e1e" stroke-width="1.1" />
<line x1="237.80" y1="123.30" x2="237.80" y2="128.30" stroke="#1e6e1e" stroke-width="1.1" />
<line x1="236.30" y1="123.30" x2="239.30" y2="123.30" stroke="#1e6e1e" stroke-width="1.1" />
<line x1="236.30" y1="128.30" x2="239.30" y2="128.30" stroke="#1e6e1e" stroke-width="1.1" />
<line x1="244.70" y1="120.90" x2="244.70" y2="126.90" stroke="#1e6e1e" stroke-width="1.1" />
<line x1="243.20" y1="120.90" x2="246.20" y2="120.90" stroke="#1e6e1e" stroke-width="1.1" />
<line x1="243.20" y1="126.90" x2="246.20" y2="126.90" stroke="#1e6e1e" stroke-width="1.1" />
<line x1="253.80" y1="119.00" x2="253.80" y2="125.00" stroke="#1e6e1e" stroke-width="1.1" />
<line x1="252.30" y1="119.00" x2="255.30" y2="119.00" stroke="#1e6e1e" stroke-width="1.1" />
<line x1="252.30" y1="125.00" x2="255.30" y2="125.00" stroke="#1e6e1e" stroke-width="1.1" />
<line x1="260.60" y1="114.40" x2="260.60" y2="121.40" stroke="#1e6e1e" stroke-width="1.1" />
<line x1="259.10" y1="114.40" x2="262.10" y2="114.40" stroke="#1e6e1e" stroke-width="1.1" />
<line x1="259.10" y1="121.40" x2="262.10" y2="121.40" stroke="#1e6e1e" stroke-width="1.1" />
<line x1="274.00" y1="109.40" x2="274.00" y2="118.40" stroke="#1e6e1e" stroke-width="1.1" />
<line x1="272.50" y1="109.40" x2="275.50" y2="109.40" stroke="#1e6e1e" stroke-width="1.1" />
<line x1="272.50" y1="118.40" x2="275.50" y2="118.40" stroke="#1e6e1e" stroke-width="1.1" />
<line x1="285.10" y1="90.90" x2="285.10" y2="104.90" stroke="#1e6e1e" stroke-width="1.1" />
<line x1="283.60" y1="90.90" x2="286.60" y2="90.90" stroke="#1e6e1e" stroke-width="1.1" />
<line x1="283.60" y1="104.90" x2="286.60" y2="104.90" stroke="#1e6e1e" stroke-width="1.1" />
<line x1="294.00" y1="80.30" x2="294.00" y2="96.30" stroke="#1e6e1e" stroke-width="1.1" />
<line x1="292.50" y1="80.30" x2="295.50" y2="80.30" stroke="#1e6e1e" stroke-width="1.1" />
<line x1="292.50" y1="96.30" x2="295.50" y2="96.30" stroke="#1e6e1e" stroke-width="1.1" />
<line x1="303.10" y1="67.80" x2="303.10" y2="81.80" stroke="#1e6e1e" stroke-width="1.1" />
<line x1="301.60" y1="67.80" x2="304.60" y2="67.80" stroke="#1e6e1e" stroke-width="1.1" />
<line x1="301.60" y1="81.80" x2="304.60" y2="81.80" stroke="#1e6e1e" stroke-width="1.1" />
<line x1="307.60" y1="60.30" x2="307.60" y2="73.30" stroke="#1e6e1e" stroke-width="1.1" />
<line x1="306.10" y1="60.30" x2="309.10" y2="60.30" stroke="#1e6e1e" stroke-width="1.1" />
<line x1="306.10" y1="73.30" x2="309.10" y2="73.30" stroke="#1e6e1e" stroke-width="1.1" />
<rect x="210.80" y="128.00" width="4.60" height="4.60" fill="#1f8f1f"/>
<rect x="220.10" y="128.70" width="4.60" height="4.60" fill="#1f8f1f"/>
<rect x="226.40" y="127.20" width="4.60" height="4.60" fill="#1f8f1f"/>
<rect x="235.50" y="123.50" width="4.60" height="4.60" fill="#1f8f1f"/>
<rect x="242.40" y="121.60" width="4.60" height="4.60" fill="#1f8f1f"/>
<rect x="251.50" y="119.70" width="4.60" height="4.60" fill="#1f8f1f"/>
<rect x="258.30" y="115.60" width="4.60" height="4.60" fill="#1f8f1f"/>
<rect x="271.70" y="111.60" width="4.60" height="4.60" fill="#1f8f1f"/>
<rect x="282.80" y="95.60" width="4.60" height="4.60" fill="#1f8f1f"/>
<rect x="291.70" y="86.00" width="4.60" height="4.60" fill="#1f8f1f"/>
<rect x="300.80" y="72.50" width="4.60" height="4.60" fill="#1f8f1f"/>
<rect x="305.30" y="64.50" width="4.60" height="4.60" fill="#1f8f1f"/>
<path d="M213.10 131.00L222.40 126.70L228.70 125.10L237.80 129.50L244.70 130.00L253.80 125.80L260.60 122.50L274.00 106.00L285.10 93.90L294.00 83.90" fill="none" stroke="#e020e0" stroke-width="1.35" stroke-linejoin="round"/>
<line x1="213.10" y1="130.00" x2="213.10" y2="132.00" stroke="#b050b0" stroke-width="1.1" />
<line x1="211.60" y1="130.00" x2="214.60" y2="130.00" stroke="#b050b0" stroke-width="1.1" />
<line x1="211.60" y1="132.00" x2="214.60" y2="132.00" stroke="#b050b0" stroke-width="1.1" />
<line x1="222.40" y1="124.20" x2="222.40" y2="129.20" stroke="#b050b0" stroke-width="1.1" />
<line x1="220.90" y1="124.20" x2="223.90" y2="124.20" stroke="#b050b0" stroke-width="1.1" />
<line x1="220.90" y1="129.20" x2="223.90" y2="129.20" stroke="#b050b0" stroke-width="1.1" />
<line x1="228.70" y1="122.10" x2="228.70" y2="128.10" stroke="#b050b0" stroke-width="1.1" />
<line x1="227.20" y1="122.10" x2="230.20" y2="122.10" stroke="#b050b0" stroke-width="1.1" />
<line x1="227.20" y1="128.10" x2="230.20" y2="128.10" stroke="#b050b0" stroke-width="1.1" />
<line x1="237.80" y1="127.00" x2="237.80" y2="132.00" stroke="#b050b0" stroke-width="1.1" />
<line x1="236.30" y1="127.00" x2="239.30" y2="127.00" stroke="#b050b0" stroke-width="1.1" />
<line x1="236.30" y1="132.00" x2="239.30" y2="132.00" stroke="#b050b0" stroke-width="1.1" />
<line x1="244.70" y1="127.00" x2="244.70" y2="133.00" stroke="#b050b0" stroke-width="1.1" />
<line x1="243.20" y1="127.00" x2="246.20" y2="127.00" stroke="#b050b0" stroke-width="1.1" />
<line x1="243.20" y1="133.00" x2="246.20" y2="133.00" stroke="#b050b0" stroke-width="1.1" />
<line x1="253.80" y1="122.30" x2="253.80" y2="129.30" stroke="#b050b0" stroke-width="1.1" />
<line x1="252.30" y1="122.30" x2="255.30" y2="122.30" stroke="#b050b0" stroke-width="1.1" />
<line x1="252.30" y1="129.30" x2="255.30" y2="129.30" stroke="#b050b0" stroke-width="1.1" />
<line x1="260.60" y1="118.50" x2="260.60" y2="126.50" stroke="#b050b0" stroke-width="1.1" />
<line x1="259.10" y1="118.50" x2="262.10" y2="118.50" stroke="#b050b0" stroke-width="1.1" />
<line x1="259.10" y1="126.50" x2="262.10" y2="126.50" stroke="#b050b0" stroke-width="1.1" />
<line x1="274.00" y1="100.00" x2="274.00" y2="112.00" stroke="#b050b0" stroke-width="1.1" />
<line x1="272.50" y1="100.00" x2="275.50" y2="100.00" stroke="#b050b0" stroke-width="1.1" />
<line x1="272.50" y1="112.00" x2="275.50" y2="112.00" stroke="#b050b0" stroke-width="1.1" />
<line x1="285.10" y1="83.40" x2="285.10" y2="104.40" stroke="#b050b0" stroke-width="1.1" />
<line x1="283.60" y1="83.40" x2="286.60" y2="83.40" stroke="#b050b0" stroke-width="1.1" />
<line x1="283.60" y1="104.40" x2="286.60" y2="104.40" stroke="#b050b0" stroke-width="1.1" />
<line x1="294.00" y1="71.40" x2="294.00" y2="96.40" stroke="#b050b0" stroke-width="1.1" />
<line x1="292.50" y1="71.40" x2="295.50" y2="71.40" stroke="#b050b0" stroke-width="1.1" />
<line x1="292.50" y1="96.40" x2="295.50" y2="96.40" stroke="#b050b0" stroke-width="1.1" />
<path d="M213.10 128.40L215.70 131.00L213.10 133.60L210.50 131.00Z" fill="#e020e0"/>
<path d="M222.40 124.10L225.00 126.70L222.40 129.30L219.80 126.70Z" fill="#e020e0"/>
<path d="M228.70 122.50L231.30 125.10L228.70 127.70L226.10 125.10Z" fill="#e020e0"/>
<path d="M237.80 126.90L240.40 129.50L237.80 132.10L235.20 129.50Z" fill="#e020e0"/>
<path d="M244.70 127.40L247.30 130.00L244.70 132.60L242.10 130.00Z" fill="#e020e0"/>
<path d="M253.80 123.20L256.40 125.80L253.80 128.40L251.20 125.80Z" fill="#e020e0"/>
<path d="M260.60 119.90L263.20 122.50L260.60 125.10L258.00 122.50Z" fill="#e020e0"/>
<path d="M274.00 103.40L276.60 106.00L274.00 108.60L271.40 106.00Z" fill="#e020e0"/>
<path d="M285.10 91.30L287.70 93.90L285.10 96.50L282.50 93.90Z" fill="#e020e0"/>
<path d="M294.00 81.30L296.60 83.90L294.00 86.50L291.40 83.90Z" fill="#e020e0"/>
<path d="M213.10 130.00L222.40 125.10L228.70 121.20L237.80 115.10L244.70 109.50L253.80 102.80L260.60 97.00L274.00 82.30L285.10 70.40" fill="none" stroke="#111111" stroke-width="1.35" stroke-linejoin="round"/>
<line x1="213.10" y1="128.00" x2="213.10" y2="132.00" stroke="#1a1a1a" stroke-width="1.1" />
<line x1="211.60" y1="128.00" x2="214.60" y2="128.00" stroke="#1a1a1a" stroke-width="1.1" />
<line x1="211.60" y1="132.00" x2="214.60" y2="132.00" stroke="#1a1a1a" stroke-width="1.1" />
<line x1="222.40" y1="120.10" x2="222.40" y2="130.10" stroke="#1a1a1a" stroke-width="1.1" />
<line x1="220.90" y1="120.10" x2="223.90" y2="120.10" stroke="#1a1a1a" stroke-width="1.1" />
<line x1="220.90" y1="130.10" x2="223.90" y2="130.10" stroke="#1a1a1a" stroke-width="1.1" />
<line x1="228.70" y1="115.20" x2="228.70" y2="127.20" stroke="#1a1a1a" stroke-width="1.1" />
<line x1="227.20" y1="115.20" x2="230.20" y2="115.20" stroke="#1a1a1a" stroke-width="1.1" />
<line x1="227.20" y1="127.20" x2="230.20" y2="127.20" stroke="#1a1a1a" stroke-width="1.1" />
<line x1="237.80" y1="108.60" x2="237.80" y2="121.60" stroke="#1a1a1a" stroke-width="1.1" />
<line x1="236.30" y1="108.60" x2="239.30" y2="108.60" stroke="#1a1a1a" stroke-width="1.1" />
<line x1="236.30" y1="121.60" x2="239.30" y2="121.60" stroke="#1a1a1a" stroke-width="1.1" />
<line x1="244.70" y1="102.00" x2="244.70" y2="117.00" stroke="#1a1a1a" stroke-width="1.1" />
<line x1="243.20" y1="102.00" x2="246.20" y2="102.00" stroke="#1a1a1a" stroke-width="1.1" />
<line x1="243.20" y1="117.00" x2="246.20" y2="117.00" stroke="#1a1a1a" stroke-width="1.1" />
<line x1="253.80" y1="95.80" x2="253.80" y2="109.80" stroke="#1a1a1a" stroke-width="1.1" />
<line x1="252.30" y1="95.80" x2="255.30" y2="95.80" stroke="#1a1a1a" stroke-width="1.1" />
<line x1="252.30" y1="109.80" x2="255.30" y2="109.80" stroke="#1a1a1a" stroke-width="1.1" />
<line x1="260.60" y1="89.00" x2="260.60" y2="105.00" stroke="#1a1a1a" stroke-width="1.1" />
<line x1="259.10" y1="89.00" x2="262.10" y2="89.00" stroke="#1a1a1a" stroke-width="1.1" />
<line x1="259.10" y1="105.00" x2="262.10" y2="105.00" stroke="#1a1a1a" stroke-width="1.1" />
<line x1="274.00" y1="70.80" x2="274.00" y2="93.80" stroke="#1a1a1a" stroke-width="1.1" />
<line x1="272.50" y1="70.80" x2="275.50" y2="70.80" stroke="#1a1a1a" stroke-width="1.1" />
<line x1="272.50" y1="93.80" x2="275.50" y2="93.80" stroke="#1a1a1a" stroke-width="1.1" />
<line x1="285.10" y1="56.90" x2="285.10" y2="83.90" stroke="#1a1a1a" stroke-width="1.1" />
<line x1="283.60" y1="56.90" x2="286.60" y2="56.90" stroke="#1a1a1a" stroke-width="1.1" />
<line x1="283.60" y1="83.90" x2="286.60" y2="83.90" stroke="#1a1a1a" stroke-width="1.1" />
<path d="M213.10 127.80L215.30 130.00L213.10 132.20L210.90 130.00Z" fill="#111111"/>
<path d="M222.40 122.90L224.60 125.10L222.40 127.30L220.20 125.10Z" fill="#111111"/>
<path d="M228.70 119.00L230.90 121.20L228.70 123.40L226.50 121.20Z" fill="#111111"/>
<path d="M237.80 112.90L240.00 115.10L237.80 117.30L235.60 115.10Z" fill="#111111"/>
<path d="M244.70 107.30L246.90 109.50L244.70 111.70L242.50 109.50Z" fill="#111111"/>
<path d="M253.80 100.60L256.00 102.80L253.80 105.00L251.60 102.80Z" fill="#111111"/>
<path d="M260.60 94.80L262.80 97.00L260.60 99.20L258.40 97.00Z" fill="#111111"/>
<path d="M274.00 80.10L276.20 82.30L274.00 84.50L271.80 82.30Z" fill="#111111"/>
<path d="M285.10 68.20L287.30 70.40L285.10 72.60L282.90 70.40Z" fill="#111111"/>
<path d="M209.00 186.50L211.70 191.10L210.00 191.10L210.00 194.90L208.00 194.90L208.00 191.10L206.30 191.10Z" fill="#000"/>
<path d="M224.50 186.50L227.20 191.10L225.50 191.10L225.50 194.90L223.50 194.90L223.50 191.10L221.80 191.10Z" fill="#000"/>
<path d="M240.00 186.50L242.70 191.10L241.00 191.10L241.00 194.90L239.00 194.90L239.00 191.10L237.30 191.10Z" fill="#000"/>
<path d="M255.70 186.50L258.40 191.10L256.70 191.10L256.70 194.90L254.70 194.90L254.70 191.10L253.00 191.10Z" fill="#000"/>
<path d="M209.00 196.90L211.70 201.50L210.00 201.50L210.00 204.90L208.00 204.90L208.00 201.50L206.30 201.50Z" fill="#e020e0"/>
<path d="M215.80 196.90L218.50 201.50L216.80 201.50L216.80 204.90L214.80 204.90L214.80 201.50L213.10 201.50Z" fill="#e020e0"/>
<path d="M222.90 196.90L225.60 201.50L223.90 201.50L223.90 204.90L221.90 204.90L221.90 201.50L220.20 201.50Z" fill="#e020e0"/>
<path d="M230.10 196.90L232.80 201.50L231.10 201.50L231.10 204.90L229.10 204.90L229.10 201.50L227.40 201.50Z" fill="#e020e0"/>
<line x1="384.40" y1="26.50" x2="384.40" y2="150.60" stroke="#6a6a6a" stroke-width="0.9" />
<line x1="384.40" y1="150.60" x2="520.00" y2="150.60" stroke="#6a6a6a" stroke-width="0.9" />
<line x1="381.80" y1="150.60" x2="384.40" y2="150.60" stroke="#6a6a6a" stroke-width="0.9" />
<line x1="381.80" y1="116.20" x2="384.40" y2="116.20" stroke="#6a6a6a" stroke-width="0.9" />
<line x1="381.80" y1="81.60" x2="384.40" y2="81.60" stroke="#6a6a6a" stroke-width="0.9" />
<line x1="381.80" y1="47.20" x2="384.40" y2="47.20" stroke="#6a6a6a" stroke-width="0.9" />
<line x1="384.00" y1="150.60" x2="384.00" y2="153.00" stroke="#6a6a6a" stroke-width="0.9" />
<line x1="404.90" y1="150.60" x2="404.90" y2="153.00" stroke="#6a6a6a" stroke-width="0.9" />
<line x1="425.80" y1="150.60" x2="425.80" y2="153.00" stroke="#6a6a6a" stroke-width="0.9" />
<line x1="446.70" y1="150.60" x2="446.70" y2="153.00" stroke="#6a6a6a" stroke-width="0.9" />
<line x1="467.60" y1="150.60" x2="467.60" y2="153.00" stroke="#6a6a6a" stroke-width="0.9" />
<line x1="488.50" y1="150.60" x2="488.50" y2="153.00" stroke="#6a6a6a" stroke-width="0.9" />
<line x1="509.40" y1="150.60" x2="509.40" y2="153.00" stroke="#6a6a6a" stroke-width="0.9" />
<text x="378.00" y="153.48" font-size="7.0" font-weight="normal" text-anchor="end" fill="#4a4a4a" font-family="Liberation Sans, sans-serif"  transform="matrix(1 0 0 1.15 0 -23.022)">0</text>
<text x="378.00" y="119.08" font-size="7.0" font-weight="normal" text-anchor="end" fill="#4a4a4a" font-family="Liberation Sans, sans-serif"  transform="matrix(1 0 0 1.15 0 -17.862)">500</text>
<text x="378.00" y="84.48" font-size="7.0" font-weight="normal" text-anchor="end" fill="#4a4a4a" font-family="Liberation Sans, sans-serif"  transform="matrix(1 0 0 1.15 0 -12.672)">1,000</text>
<text x="378.00" y="50.08" font-size="7.0" font-weight="normal" text-anchor="end" fill="#4a4a4a" font-family="Liberation Sans, sans-serif"  transform="matrix(1 0 0 1.15 0 -7.512)">1,500</text>
<text x="384.00" y="161.28" font-size="7.0" font-weight="normal" text-anchor="middle" fill="#4a4a4a" font-family="Liberation Sans, sans-serif"  transform="matrix(1 0 0 1.15 0 -24.192)">0</text>
<text x="404.90" y="161.28" font-size="7.0" font-weight="normal" text-anchor="middle" fill="#4a4a4a" font-family="Liberation Sans, sans-serif"  transform="matrix(1 0 0 1.15 0 -24.192)">10</text>
<text x="425.80" y="161.28" font-size="7.0" font-weight="normal" text-anchor="middle" fill="#4a4a4a" font-family="Liberation Sans, sans-serif"  transform="matrix(1 0 0 1.15 0 -24.192)">20</text>
<text x="446.70" y="161.28" font-size="7.0" font-weight="normal" text-anchor="middle" fill="#4a4a4a" font-family="Liberation Sans, sans-serif"  transform="matrix(1 0 0 1.15 0 -24.192)">30</text>
<text x="467.60" y="161.28" font-size="7.0" font-weight="normal" text-anchor="middle" fill="#4a4a4a" font-family="Liberation Sans, sans-serif"  transform="matrix(1 0 0 1.15 0 -24.192)">40</text>
<text x="488.50" y="161.28" font-size="7.0" font-weight="normal" text-anchor="middle" fill="#4a4a4a" font-family="Liberation Sans, sans-serif"  transform="matrix(1 0 0 1.15 0 -24.192)">50</text>
<text x="509.40" y="161.28" font-size="7.0" font-weight="normal" text-anchor="middle" fill="#4a4a4a" font-family="Liberation Sans, sans-serif"  transform="matrix(1 0 0 1.15 0 -24.192)">60</text>
<text transform="translate(356.03,87.15) rotate(-90)" x="0" y="0" font-size="7.9" font-weight="bold" text-anchor="middle" fill="#111" font-family="Liberation Sans">Tumor volume (mm<tspan font-size="4.90" dy="-3.00">3</tspan><tspan dy="3.00">)</tspan></text>
<text x="454.60" y="175.46" font-size="8.0" font-weight="bold" text-anchor="middle" fill="#111" font-family="Liberation Sans, sans-serif" >Days post sizematch</text>
<line x1="390.40" y1="27.10" x2="402.30" y2="27.10" stroke="#111111" stroke-width="1.4" />
<path d="M396.35 24.80L398.65 27.10L396.35 29.40L394.05 27.10Z" fill="#111111"/>
<text x="402.90" y="29.36" font-size="6.3" font-weight="normal" text-anchor="start" fill="#222" font-family="Liberation Sans, sans-serif" >Negative control mAb</text>
<line x1="390.40" y1="34.80" x2="402.30" y2="34.80" stroke="#e020e0" stroke-width="1.4" />
<path d="M396.35 32.20L398.95 34.80L396.35 37.40L393.75 34.80Z" fill="#e020e0"/>
<text x="402.90" y="37.06" font-size="6.3" font-weight="normal" text-anchor="start" fill="#222" font-family="Liberation Sans, sans-serif" >Gemcitabine</text>
<line x1="390.40" y1="43.00" x2="402.30" y2="43.00" stroke="#1f8f1f" stroke-width="1.4" />
<rect x="394.05" y="40.70" width="4.60" height="4.60" fill="#1f8f1f"/>
<text x="402.90" y="45.26" font-size="6.3" font-weight="normal" text-anchor="start" fill="#222" font-family="Liberation Sans, sans-serif"  textLength="26" lengthAdjust="spacingAndGlyphs">ABT-165</text>
<line x1="390.40" y1="50.80" x2="402.30" y2="50.80" stroke="#e8761e" stroke-width="1.4" />
<rect x="393.95" y="48.40" width="4.80" height="4.80" fill="#e8761e"/>
<text x="402.90" y="53.06" font-size="6.3" font-weight="normal" text-anchor="start" fill="#222" font-family="Liberation Sans, sans-serif"  textLength="70.4" lengthAdjust="spacingAndGlyphs">ABT-165 + Gemcitabine</text>
<path d="M384.00 136.30L392.80 135.40L398.80 134.30L407.10 133.80L411.60 134.30L421.80 133.50L427.90 132.70L436.20 127.90L442.50 128.80L450.80 129.00L454.70 126.30L463.20 122.70L467.50 117.90L479.90 105.90L486.30 99.80L494.30 83.50L500.70 77.10L509.00 70.40" fill="none" stroke="#e8761e" stroke-width="1.35" stroke-linejoin="round"/>
<line x1="436.20" y1="126.90" x2="436.20" y2="128.90" stroke="#c07040" stroke-width="1.1" />
<line x1="434.70" y1="126.90" x2="437.70" y2="126.90" stroke="#c07040" stroke-width="1.1" />
<line x1="434.70" y1="128.90" x2="437.70" y2="128.90" stroke="#c07040" stroke-width="1.1" />
<line x1="442.50" y1="127.80" x2="442.50" y2="129.80" stroke="#c07040" stroke-width="1.1" />
<line x1="441.00" y1="127.80" x2="444.00" y2="127.80" stroke="#c07040" stroke-width="1.1" />
<line x1="441.00" y1="129.80" x2="444.00" y2="129.80" stroke="#c07040" stroke-width="1.1" />
<line x1="450.80" y1="128.00" x2="450.80" y2="130.00" stroke="#c07040" stroke-width="1.1" />
<line x1="449.30" y1="128.00" x2="452.30" y2="128.00" stroke="#c07040" stroke-width="1.1" />
<line x1="449.30" y1="130.00" x2="452.30" y2="130.00" stroke="#c07040" stroke-width="1.1" />
<line x1="454.70" y1="124.80" x2="454.70" y2="127.80" stroke="#c07040" stroke-width="1.1" />
<line x1="453.20" y1="124.80" x2="456.20" y2="124.80" stroke="#c07040" stroke-width="1.1" />
<line x1="453.20" y1="127.80" x2="456.20" y2="127.80" stroke="#c07040" stroke-width="1.1" />
<line x1="463.20" y1="120.70" x2="463.20" y2="124.70" stroke="#c07040" stroke-width="1.1" />
<line x1="461.70" y1="120.70" x2="464.70" y2="120.70" stroke="#c07040" stroke-width="1.1" />
<line x1="461.70" y1="124.70" x2="464.70" y2="124.70" stroke="#c07040" stroke-width="1.1" />
<line x1="467.50" y1="114.90" x2="467.50" y2="120.90" stroke="#c07040" stroke-width="1.1" />
<line x1="466.00" y1="114.90" x2="469.00" y2="114.90" stroke="#c07040" stroke-width="1.1" />
<line x1="466.00" y1="120.90" x2="469.00" y2="120.90" stroke="#c07040" stroke-width="1.1" />
<line x1="479.90" y1="100.90" x2="479.90" y2="110.90" stroke="#c07040" stroke-width="1.1" />
<line x1="478.40" y1="100.90" x2="481.40" y2="100.90" stroke="#c07040" stroke-width="1.1" />
<line x1="478.40" y1="110.90" x2="481.40" y2="110.90" stroke="#c07040" stroke-width="1.1" />
<line x1="486.30" y1="93.30" x2="486.30" y2="106.30" stroke="#c07040" stroke-width="1.1" />
<line x1="484.80" y1="93.30" x2="487.80" y2="93.30" stroke="#c07040" stroke-width="1.1" />
<line x1="484.80" y1="106.30" x2="487.80" y2="106.30" stroke="#c07040" stroke-width="1.1" />
<line x1="494.30" y1="76.70" x2="494.30" y2="90.30" stroke="#c07040" stroke-width="1.1" />
<line x1="492.80" y1="76.70" x2="495.80" y2="76.70" stroke="#c07040" stroke-width="1.1" />
<line x1="492.80" y1="90.30" x2="495.80" y2="90.30" stroke="#c07040" stroke-width="1.1" />
<line x1="500.70" y1="70.10" x2="500.70" y2="84.10" stroke="#c07040" stroke-width="1.1" />
<line x1="499.20" y1="70.10" x2="502.20" y2="70.10" stroke="#c07040" stroke-width="1.1" />
<line x1="499.20" y1="84.10" x2="502.20" y2="84.10" stroke="#c07040" stroke-width="1.1" />
<line x1="509.00" y1="61.90" x2="509.00" y2="78.90" stroke="#c07040" stroke-width="1.1" />
<line x1="507.50" y1="61.90" x2="510.50" y2="61.90" stroke="#c07040" stroke-width="1.1" />
<line x1="507.50" y1="78.90" x2="510.50" y2="78.90" stroke="#c07040" stroke-width="1.1" />
<rect x="381.70" y="134.00" width="4.60" height="4.60" fill="#e8761e"/>
<rect x="390.50" y="133.10" width="4.60" height="4.60" fill="#e8761e"/>
<rect x="396.50" y="132.00" width="4.60" height="4.60" fill="#e8761e"/>
<rect x="404.80" y="131.50" width="4.60" height="4.60" fill="#e8761e"/>
<rect x="409.30" y="132.00" width="4.60" height="4.60" fill="#e8761e"/>
<rect x="419.50" y="131.20" width="4.60" height="4.60" fill="#e8761e"/>
<rect x="425.60" y="130.40" width="4.60" height="4.60" fill="#e8761e"/>
<rect x="433.90" y="125.60" width="4.60" height="4.60" fill="#e8761e"/>
<rect x="440.20" y="126.50" width="4.60" height="4.60" fill="#e8761e"/>
<rect x="448.50" y="126.70" width="4.60" height="4.60" fill="#e8761e"/>
<rect x="452.40" y="124.00" width="4.60" height="4.60" fill="#e8761e"/>
<rect x="460.90" y="120.40" width="4.60" height="4.60" fill="#e8761e"/>
<rect x="465.20" y="115.60" width="4.60" height="4.60" fill="#e8761e"/>
<rect x="477.60" y="103.60" width="4.60" height="4.60" fill="#e8761e"/>
<rect x="484.00" y="97.50" width="4.60" height="4.60" fill="#e8761e"/>
<rect x="492.00" y="81.20" width="4.60" height="4.60" fill="#e8761e"/>
<rect x="498.40" y="74.80" width="4.60" height="4.60" fill="#e8761e"/>
<rect x="506.70" y="68.10" width="4.60" height="4.60" fill="#e8761e"/>
<path d="M384.00 136.30L392.80 132.50L398.80 130.30L407.10 127.90L411.60 125.80L421.80 124.20L427.90 121.00L436.20 116.20L442.50 114.60L450.80 109.90L454.70 106.20L463.20 97.60L467.50 93.10L479.90 81.10" fill="none" stroke="#1f8f1f" stroke-width="1.35" stroke-linejoin="round"/>
<line x1="392.80" y1="131.50" x2="392.80" y2="133.50" stroke="#1e6e1e" stroke-width="1.1" />
<line x1="391.30" y1="131.50" x2="394.30" y2="131.50" stroke="#1e6e1e" stroke-width="1.1" />
<line x1="391.30" y1="133.50" x2="394.30" y2="133.50" stroke="#1e6e1e" stroke-width="1.1" />
<line x1="398.80" y1="128.80" x2="398.80" y2="131.80" stroke="#1e6e1e" stroke-width="1.1" />
<line x1="397.30" y1="128.80" x2="400.30" y2="128.80" stroke="#1e6e1e" stroke-width="1.1" />
<line x1="397.30" y1="131.80" x2="400.30" y2="131.80" stroke="#1e6e1e" stroke-width="1.1" />
<line x1="407.10" y1="125.90" x2="407.10" y2="129.90" stroke="#1e6e1e" stroke-width="1.1" />
<line x1="405.60" y1="125.90" x2="408.60" y2="125.90" stroke="#1e6e1e" stroke-width="1.1" />
<line x1="405.60" y1="129.90" x2="408.60" y2="129.90" stroke="#1e6e1e" stroke-width="1.1" />
<line x1="411.60" y1="123.80" x2="411.60" y2="127.80" stroke="#1e6e1e" stroke-width="1.1" />
<line x1="410.10" y1="123.80" x2="413.10" y2="123.80" stroke="#1e6e1e" stroke-width="1.1" />
<line x1="410.10" y1="127.80" x2="413.10" y2="127.80" stroke="#1e6e1e" stroke-width="1.1" />
<line x1="421.80" y1="121.70" x2="421.80" y2="126.70" stroke="#1e6e1e" stroke-width="1.1" />
<line x1="420.30" y1="121.70" x2="423.30" y2="121.70" stroke="#1e6e1e" stroke-width="1.1" />
<line x1="420.30" y1="126.70" x2="423.30" y2="126.70" stroke="#1e6e1e" stroke-width="1.1" />
<line x1="427.90" y1="118.00" x2="427.90" y2="124.00" stroke="#1e6e1e" stroke-width="1.1" />
<line x1="426.40" y1="118.00" x2="429.40" y2="118.00" stroke="#1e6e1e" stroke-width="1.1" />
<line x1="426.40" y1="124.00" x2="429.40" y2="124.00" stroke="#1e6e1e" stroke-width="1.1" />
<line x1="436.20" y1="112.70" x2="436.20" y2="119.70" stroke="#1e6e1e" stroke-width="1.1" />
<line x1="434.70" y1="112.70" x2="437.70" y2="112.70" stroke="#1e6e1e" stroke-width="1.1" />
<line x1="434.70" y1="119.70" x2="437.70" y2="119.70" stroke="#1e6e1e" stroke-width="1.1" />
<line x1="442.50" y1="111.10" x2="442.50" y2="118.10" stroke="#1e6e1e" stroke-width="1.1" />
<line x1="441.00" y1="111.10" x2="444.00" y2="111.10" stroke="#1e6e1e" stroke-width="1.1" />
<line x1="441.00" y1="118.10" x2="444.00" y2="118.10" stroke="#1e6e1e" stroke-width="1.1" />
<line x1="450.80" y1="105.90" x2="450.80" y2="113.90" stroke="#1e6e1e" stroke-width="1.1" />
<line x1="449.30" y1="105.90" x2="452.30" y2="105.90" stroke="#1e6e1e" stroke-width="1.1" />
<line x1="449.30" y1="113.90" x2="452.30" y2="113.90" stroke="#1e6e1e" stroke-width="1.1" />
<line x1="454.70" y1="101.70" x2="454.70" y2="110.70" stroke="#1e6e1e" stroke-width="1.1" />
<line x1="453.20" y1="101.70" x2="456.20" y2="101.70" stroke="#1e6e1e" stroke-width="1.1" />
<line x1="453.20" y1="110.70" x2="456.20" y2="110.70" stroke="#1e6e1e" stroke-width="1.1" />
<line x1="463.20" y1="91.10" x2="463.20" y2="104.10" stroke="#1e6e1e" stroke-width="1.1" />
<line x1="461.70" y1="91.10" x2="464.70" y2="91.10" stroke="#1e6e1e" stroke-width="1.1" />
<line x1="461.70" y1="104.10" x2="464.70" y2="104.10" stroke="#1e6e1e" stroke-width="1.1" />
<line x1="467.50" y1="86.60" x2="467.50" y2="99.60" stroke="#1e6e1e" stroke-width="1.1" />
<line x1="466.00" y1="86.60" x2="469.00" y2="86.60" stroke="#1e6e1e" stroke-width="1.1" />
<line x1="466.00" y1="99.60" x2="469.00" y2="99.60" stroke="#1e6e1e" stroke-width="1.1" />
<line x1="479.90" y1="70.10" x2="479.90" y2="92.10" stroke="#1e6e1e" stroke-width="1.1" />
<line x1="478.40" y1="70.10" x2="481.40" y2="70.10" stroke="#1e6e1e" stroke-width="1.1" />
<line x1="478.40" y1="92.10" x2="481.40" y2="92.10" stroke="#1e6e1e" stroke-width="1.1" />
<rect x="381.70" y="134.00" width="4.60" height="4.60" fill="#1f8f1f"/>
<rect x="390.50" y="130.20" width="4.60" height="4.60" fill="#1f8f1f"/>
<rect x="396.50" y="128.00" width="4.60" height="4.60" fill="#1f8f1f"/>
<rect x="404.80" y="125.60" width="4.60" height="4.60" fill="#1f8f1f"/>
<rect x="409.30" y="123.50" width="4.60" height="4.60" fill="#1f8f1f"/>
<rect x="419.50" y="121.90" width="4.60" height="4.60" fill="#1f8f1f"/>
<rect x="425.60" y="118.70" width="4.60" height="4.60" fill="#1f8f1f"/>
<rect x="433.90" y="113.90" width="4.60" height="4.60" fill="#1f8f1f"/>
<rect x="440.20" y="112.30" width="4.60" height="4.60" fill="#1f8f1f"/>
<rect x="448.50" y="107.60" width="4.60" height="4.60" fill="#1f8f1f"/>
<rect x="452.40" y="103.90" width="4.60" height="4.60" fill="#1f8f1f"/>
<rect x="460.90" y="95.30" width="4.60" height="4.60" fill="#1f8f1f"/>
<rect x="465.20" y="90.80" width="4.60" height="4.60" fill="#1f8f1f"/>
<rect x="477.60" y="78.80" width="4.60" height="4.60" fill="#1f8f1f"/>
<path d="M384.00 136.30L392.80 129.00L398.80 123.60L407.10 115.10L411.60 113.00L421.80 103.40L427.90 96.40L436.20 88.40L442.50 77.90L450.80 65.80" fill="none" stroke="#111111" stroke-width="1.35" stroke-linejoin="round"/>
<line x1="392.80" y1="127.50" x2="392.80" y2="130.50" stroke="#1a1a1a" stroke-width="1.1" />
<line x1="391.30" y1="127.50" x2="394.30" y2="127.50" stroke="#1a1a1a" stroke-width="1.1" />
<line x1="391.30" y1="130.50" x2="394.30" y2="130.50" stroke="#1a1a1a" stroke-width="1.1" />
<line x1="398.80" y1="121.60" x2="398.80" y2="125.60" stroke="#1a1a1a" stroke-width="1.1" />
<line x1="397.30" y1="121.60" x2="400.30" y2="121.60" stroke="#1a1a1a" stroke-width="1.1" />
<line x1="397.30" y1="125.60" x2="400.30" y2="125.60" stroke="#1a1a1a" stroke-width="1.1" />
<line x1="407.10" y1="112.10" x2="407.10" y2="118.10" stroke="#1a1a1a" stroke-width="1.1" />
<line x1="405.60" y1="112.10" x2="408.60" y2="112.10" stroke="#1a1a1a" stroke-width="1.1" />
<line x1="405.60" y1="118.10" x2="408.60" y2="118.10" stroke="#1a1a1a" stroke-width="1.1" />
<line x1="411.60" y1="109.50" x2="411.60" y2="116.50" stroke="#1a1a1a" stroke-width="1.1" />
<line x1="410.10" y1="109.50" x2="413.10" y2="109.50" stroke="#1a1a1a" stroke-width="1.1" />
<line x1="410.10" y1="116.50" x2="413.10" y2="116.50" stroke="#1a1a1a" stroke-width="1.1" />
<line x1="421.80" y1="99.90" x2="421.80" y2="106.90" stroke="#1a1a1a" stroke-width="1.1" />
<line x1="420.30" y1="99.90" x2="423.30" y2="99.90" stroke="#1a1a1a" stroke-width="1.1" />
<line x1="420.30" y1="106.90" x2="423.30" y2="106.90" stroke="#1a1a1a" stroke-width="1.1" />
<line x1="427.90" y1="90.90" x2="427.90" y2="101.90" stroke="#1a1a1a" stroke-width="1.1" />
<line x1="426.40" y1="90.90" x2="429.40" y2="90.90" stroke="#1a1a1a" stroke-width="1.1" />
<line x1="426.40" y1="101.90" x2="429.40" y2="101.90" stroke="#1a1a1a" stroke-width="1.1" />
<line x1="436.20" y1="81.90" x2="436.20" y2="94.90" stroke="#1a1a1a" stroke-width="1.1" />
<line x1="434.70" y1="81.90" x2="437.70" y2="81.90" stroke="#1a1a1a" stroke-width="1.1" />
<line x1="434.70" y1="94.90" x2="437.70" y2="94.90" stroke="#1a1a1a" stroke-width="1.1" />
<line x1="442.50" y1="71.60" x2="442.50" y2="84.20" stroke="#1a1a1a" stroke-width="1.1" />
<line x1="441.00" y1="71.60" x2="444.00" y2="71.60" stroke="#1a1a1a" stroke-width="1.1" />
<line x1="441.00" y1="84.20" x2="444.00" y2="84.20" stroke="#1a1a1a" stroke-width="1.1" />
<line x1="450.80" y1="57.30" x2="450.80" y2="74.30" stroke="#1a1a1a" stroke-width="1.1" />
<line x1="449.30" y1="57.30" x2="452.30" y2="57.30" stroke="#1a1a1a" stroke-width="1.1" />
<line x1="449.30" y1="74.30" x2="452.30" y2="74.30" stroke="#1a1a1a" stroke-width="1.1" />
<path d="M384.00 134.10L386.20 136.30L384.00 138.50L381.80 136.30Z" fill="#111111"/>
<path d="M392.80 126.80L395.00 129.00L392.80 131.20L390.60 129.00Z" fill="#111111"/>
<path d="M398.80 121.40L401.00 123.60L398.80 125.80L396.60 123.60Z" fill="#111111"/>
<path d="M407.10 112.90L409.30 115.10L407.10 117.30L404.90 115.10Z" fill="#111111"/>
<path d="M411.60 110.80L413.80 113.00L411.60 115.20L409.40 113.00Z" fill="#111111"/>
<path d="M421.80 101.20L424.00 103.40L421.80 105.60L419.60 103.40Z" fill="#111111"/>
<path d="M427.90 94.20L430.10 96.40L427.90 98.60L425.70 96.40Z" fill="#111111"/>
<path d="M436.20 86.20L438.40 88.40L436.20 90.60L434.00 88.40Z" fill="#111111"/>
<path d="M442.50 75.70L444.70 77.90L442.50 80.10L440.30 77.90Z" fill="#111111"/>
<path d="M450.80 63.60L453.00 65.80L450.80 68.00L448.60 65.80Z" fill="#111111"/>
<path d="M384.00 136.30L392.80 129.00L398.80 123.90L407.10 117.20L411.60 118.30L421.80 115.60L427.90 111.40L436.20 107.60L442.50 110.30L450.80 105.30L454.70 97.60L463.20 89.90L467.50 75.50" fill="none" stroke="#e020e0" stroke-width="1.35" stroke-linejoin="round"/>
<line x1="392.80" y1="127.50" x2="392.80" y2="130.50" stroke="#b050b0" stroke-width="1.1" />
<line x1="391.30" y1="127.50" x2="394.30" y2="127.50" stroke="#b050b0" stroke-width="1.1" />
<line x1="391.30" y1="130.50" x2="394.30" y2="130.50" stroke="#b050b0" stroke-width="1.1" />
<line x1="398.80" y1="121.90" x2="398.80" y2="125.90" stroke="#b050b0" stroke-width="1.1" />
<line x1="397.30" y1="121.90" x2="400.30" y2="121.90" stroke="#b050b0" stroke-width="1.1" />
<line x1="397.30" y1="125.90" x2="400.30" y2="125.90" stroke="#b050b0" stroke-width="1.1" />
<line x1="407.10" y1="114.20" x2="407.10" y2="120.20" stroke="#b050b0" stroke-width="1.1" />
<line x1="405.60" y1="114.20" x2="408.60" y2="114.20" stroke="#b050b0" stroke-width="1.1" />
<line x1="405.60" y1="120.20" x2="408.60" y2="120.20" stroke="#b050b0" stroke-width="1.1" />
<line x1="411.60" y1="115.30" x2="411.60" y2="121.30" stroke="#b050b0" stroke-width="1.1" />
<line x1="410.10" y1="115.30" x2="413.10" y2="115.30" stroke="#b050b0" stroke-width="1.1" />
<line x1="410.10" y1="121.30" x2="413.10" y2="121.30" stroke="#b050b0" stroke-width="1.1" />
<line x1="421.80" y1="112.60" x2="421.80" y2="118.60" stroke="#b050b0" stroke-width="1.1" />
<line x1="420.30" y1="112.60" x2="423.30" y2="112.60" stroke="#b050b0" stroke-width="1.1" />
<line x1="420.30" y1="118.60" x2="423.30" y2="118.60" stroke="#b050b0" stroke-width="1.1" />
<line x1="427.90" y1="107.90" x2="427.90" y2="114.90" stroke="#b050b0" stroke-width="1.1" />
<line x1="426.40" y1="107.90" x2="429.40" y2="107.90" stroke="#b050b0" stroke-width="1.1" />
<line x1="426.40" y1="114.90" x2="429.40" y2="114.90" stroke="#b050b0" stroke-width="1.1" />
<line x1="436.20" y1="103.60" x2="436.20" y2="111.60" stroke="#b050b0" stroke-width="1.1" />
<line x1="434.70" y1="103.60" x2="437.70" y2="103.60" stroke="#b050b0" stroke-width="1.1" />
<line x1="434.70" y1="111.60" x2="437.70" y2="111.60" stroke="#b050b0" stroke-width="1.1" />
<line x1="442.50" y1="107.80" x2="442.50" y2="112.80" stroke="#b050b0" stroke-width="1.1" />
<line x1="441.00" y1="107.80" x2="444.00" y2="107.80" stroke="#b050b0" stroke-width="1.1" />
<line x1="441.00" y1="112.80" x2="444.00" y2="112.80" stroke="#b050b0" stroke-width="1.1" />
<line x1="450.80" y1="101.80" x2="450.80" y2="108.80" stroke="#b050b0" stroke-width="1.1" />
<line x1="449.30" y1="101.80" x2="452.30" y2="101.80" stroke="#b050b0" stroke-width="1.1" />
<line x1="449.30" y1="108.80" x2="452.30" y2="108.80" stroke="#b050b0" stroke-width="1.1" />
<line x1="454.70" y1="93.10" x2="454.70" y2="102.10" stroke="#b050b0" stroke-width="1.1" />
<line x1="453.20" y1="93.10" x2="456.20" y2="93.10" stroke="#b050b0" stroke-width="1.1" />
<line x1="453.20" y1="102.10" x2="456.20" y2="102.10" stroke="#b050b0" stroke-width="1.1" />
<line x1="463.20" y1="85.40" x2="463.20" y2="94.40" stroke="#b050b0" stroke-width="1.1" />
<line x1="461.70" y1="85.40" x2="464.70" y2="85.40" stroke="#b050b0" stroke-width="1.1" />
<line x1="461.70" y1="94.40" x2="464.70" y2="94.40" stroke="#b050b0" stroke-width="1.1" />
<line x1="467.50" y1="68.50" x2="467.50" y2="82.50" stroke="#b050b0" stroke-width="1.1" />
<line x1="466.00" y1="68.50" x2="469.00" y2="68.50" stroke="#b050b0" stroke-width="1.1" />
<line x1="466.00" y1="82.50" x2="469.00" y2="82.50" stroke="#b050b0" stroke-width="1.1" />
<path d="M384.00 133.70L386.60 136.30L384.00 138.90L381.40 136.30Z" fill="#e020e0"/>
<path d="M392.80 126.40L395.40 129.00L392.80 131.60L390.20 129.00Z" fill="#e020e0"/>
<path d="M398.80 121.30L401.40 123.90L398.80 126.50L396.20 123.90Z" fill="#e020e0"/>
<path d="M407.10 114.60L409.70 117.20L407.10 119.80L404.50 117.20Z" fill="#e020e0"/>
<path d="M411.60 115.70L414.20 118.30L411.60 120.90L409.00 118.30Z" fill="#e020e0"/>
<path d="M421.80 113.00L424.40 115.60L421.80 118.20L419.20 115.60Z" fill="#e020e0"/>
<path d="M427.90 108.80L430.50 111.40L427.90 114.00L425.30 111.40Z" fill="#e020e0"/>
<path d="M436.20 105.00L438.80 107.60L436.20 110.20L433.60 107.60Z" fill="#e020e0"/>
<path d="M442.50 107.70L445.10 110.30L442.50 112.90L439.90 110.30Z" fill="#e020e0"/>
<path d="M450.80 102.70L453.40 105.30L450.80 107.90L448.20 105.30Z" fill="#e020e0"/>
<path d="M454.70 95.00L457.30 97.60L454.70 100.20L452.10 97.60Z" fill="#e020e0"/>
<path d="M463.20 87.30L465.80 89.90L463.20 92.50L460.60 89.90Z" fill="#e020e0"/>
<path d="M467.50 72.90L470.10 75.50L467.50 78.10L464.90 75.50Z" fill="#e020e0"/>
<path d="M383.80 186.50L386.50 191.10L384.80 191.10L384.80 194.90L382.80 194.90L382.80 191.10L381.10 191.10Z" fill="#000"/>
<path d="M398.80 186.50L401.50 191.10L399.80 191.10L399.80 194.90L397.80 194.90L397.80 191.10L396.10 191.10Z" fill="#000"/>
<path d="M413.80 186.50L416.50 191.10L414.80 191.10L414.80 194.90L412.80 194.90L412.80 191.10L411.10 191.10Z" fill="#000"/>
<path d="M427.70 186.50L430.40 191.10L428.70 191.10L428.70 194.90L426.70 194.90L426.70 191.10L425.00 191.10Z" fill="#000"/>
<path d="M442.70 186.50L445.40 191.10L443.70 191.10L443.70 194.90L441.70 194.90L441.70 191.10L440.00 191.10Z" fill="#000"/>
<path d="M383.80 196.90L386.50 201.50L384.80 201.50L384.80 204.90L382.80 204.90L382.80 201.50L381.10 201.50Z" fill="#e020e0"/>
<path d="M390.20 196.90L392.90 201.50L391.20 201.50L391.20 204.90L389.20 204.90L389.20 201.50L387.50 201.50Z" fill="#e020e0"/>
<path d="M396.80 196.90L399.50 201.50L397.80 201.50L397.80 204.90L395.80 204.90L395.80 201.50L394.10 201.50Z" fill="#e020e0"/>
<path d="M403.70 196.90L406.40 201.50L404.70 201.50L404.70 204.90L402.70 204.90L402.70 201.50L401.00 201.50Z" fill="#e020e0"/>
<line x1="41.80" y1="283.60" x2="41.80" y2="408.70" stroke="#6a6a6a" stroke-width="0.9" />
<line x1="41.80" y1="408.70" x2="177.00" y2="408.70" stroke="#6a6a6a" stroke-width="0.9" />
<line x1="39.20" y1="408.70" x2="41.80" y2="408.70" stroke="#6a6a6a" stroke-width="0.9" />
<line x1="39.20" y1="367.30" x2="41.80" y2="367.30" stroke="#6a6a6a" stroke-width="0.9" />
<line x1="39.20" y1="326.10" x2="41.80" y2="326.10" stroke="#6a6a6a" stroke-width="0.9" />
<line x1="39.20" y1="285.00" x2="41.80" y2="285.00" stroke="#6a6a6a" stroke-width="0.9" />
<line x1="41.50" y1="408.70" x2="41.50" y2="411.10" stroke="#6a6a6a" stroke-width="0.9" />
<line x1="75.30" y1="408.70" x2="75.30" y2="411.10" stroke="#6a6a6a" stroke-width="0.9" />
<line x1="109.10" y1="408.70" x2="109.10" y2="411.10" stroke="#6a6a6a" stroke-width="0.9" />
<line x1="142.90" y1="408.70" x2="142.90" y2="411.10" stroke="#6a6a6a" stroke-width="0.9" />
<line x1="176.70" y1="408.70" x2="176.70" y2="411.10" stroke="#6a6a6a" stroke-width="0.9" />
<text x="35.80" y="411.58" font-size="7.0" font-weight="normal" text-anchor="end" fill="#4a4a4a" font-family="Liberation Sans, sans-serif"  transform="matrix(1 0 0 1.15 0 -61.737)">0</text>
<text x="35.80" y="370.18" font-size="7.0" font-weight="normal" text-anchor="end" fill="#4a4a4a" font-family="Liberation Sans, sans-serif"  transform="matrix(1 0 0 1.15 0 -55.527)">500</text>
<text x="35.80" y="328.98" font-size="7.0" font-weight="normal" text-anchor="end" fill="#4a4a4a" font-family="Liberation Sans, sans-serif"  transform="matrix(1 0 0 1.15 0 -49.347)">1,000</text>
<text x="35.80" y="287.88" font-size="7.0" font-weight="normal" text-anchor="end" fill="#4a4a4a" font-family="Liberation Sans, sans-serif"  transform="matrix(1 0 0 1.15 0 -43.182)">1,500</text>
<text x="41.50" y="419.38" font-size="7.0" font-weight="normal" text-anchor="middle" fill="#4a4a4a" font-family="Liberation Sans, sans-serif"  transform="matrix(1 0 0 1.15 0 -62.907)">0</text>
<text x="75.30" y="419.38" font-size="7.0" font-weight="normal" text-anchor="middle" fill="#4a4a4a" font-family="Liberation Sans, sans-serif"  transform="matrix(1 0 0 1.15 0 -62.907)">10</text>
<text x="109.10" y="419.38" font-size="7.0" font-weight="normal" text-anchor="middle" fill="#4a4a4a" font-family="Liberation Sans, sans-serif"  transform="matrix(1 0 0 1.15 0 -62.907)">20</text>
<text x="142.90" y="419.38" font-size="7.0" font-weight="normal" text-anchor="middle" fill="#4a4a4a" font-family="Liberation Sans, sans-serif"  transform="matrix(1 0 0 1.15 0 -62.907)">30</text>
<text x="176.70" y="419.38" font-size="7.0" font-weight="normal" text-anchor="middle" fill="#4a4a4a" font-family="Liberation Sans, sans-serif"  transform="matrix(1 0 0 1.15 0 -62.907)">40</text>
<text transform="translate(12.93,343.20) rotate(-90)" x="0" y="0" font-size="7.9" font-weight="bold" text-anchor="middle" fill="#111" font-family="Liberation Sans">Tumor volume (mm<tspan font-size="4.90" dy="-3.00">3</tspan><tspan dy="3.00">)</tspan></text>
<text x="113.20" y="432.16" font-size="8.0" font-weight="bold" text-anchor="middle" fill="#111" font-family="Liberation Sans, sans-serif" >Days post sizematch</text>
<line x1="50.40" y1="289.60" x2="62.30" y2="289.60" stroke="#111111" stroke-width="1.4" />
<path d="M56.35 287.30L58.65 289.60L56.35 291.90L54.05 289.60Z" fill="#111111"/>
<text x="62.90" y="291.86" font-size="6.3" font-weight="normal" text-anchor="start" fill="#222" font-family="Liberation Sans, sans-serif" >Negative control mAb</text>
<line x1="50.40" y1="297.80" x2="62.30" y2="297.80" stroke="#e020e0" stroke-width="1.4" />
<path d="M56.35 295.20L58.95 297.80L56.35 300.40L53.75 297.80Z" fill="#e020e0"/>
<text x="62.90" y="300.06" font-size="6.3" font-weight="normal" text-anchor="start" fill="#222" font-family="Liberation Sans, sans-serif"  textLength="28" lengthAdjust="spacingAndGlyphs">Paclitaxel</text>
<line x1="50.40" y1="305.60" x2="62.30" y2="305.60" stroke="#1f8f1f" stroke-width="1.4" />
<rect x="54.05" y="303.30" width="4.60" height="4.60" fill="#1f8f1f"/>
<text x="62.90" y="307.86" font-size="6.3" font-weight="normal" text-anchor="start" fill="#222" font-family="Liberation Sans, sans-serif" >ABT-165</text>
<line x1="50.40" y1="313.70" x2="62.30" y2="313.70" stroke="#e8761e" stroke-width="1.4" />
<rect x="53.95" y="311.30" width="4.80" height="4.80" fill="#e8761e"/>
<text x="62.90" y="315.96" font-size="6.3" font-weight="normal" text-anchor="start" fill="#222" font-family="Liberation Sans, sans-serif"  textLength="61.1" lengthAdjust="spacingAndGlyphs">ABT-165  + Paclitaxel</text>
<path d="M41.50 396.00L55.20 395.00L62.00 396.60L68.70 397.30L79.20 399.00L85.90 400.60L92.50 401.50L102.50 402.10L109.40 400.40L116.10 398.00L126.30 394.00L133.20 394.20L139.90 390.70L149.80 384.00L156.70 365.90L163.60 358.70L173.50 348.80" fill="none" stroke="#e8761e" stroke-width="1.35" stroke-linejoin="round"/>
<line x1="109.40" y1="399.40" x2="109.40" y2="401.40" stroke="#c07040" stroke-width="1.1" />
<line x1="107.90" y1="399.40" x2="110.90" y2="399.40" stroke="#c07040" stroke-width="1.1" />
<line x1="107.90" y1="401.40" x2="110.90" y2="401.40" stroke="#c07040" stroke-width="1.1" />
<line x1="116.10" y1="397.00" x2="116.10" y2="399.00" stroke="#c07040" stroke-width="1.1" />
<line x1="114.60" y1="397.00" x2="117.60" y2="397.00" stroke="#c07040" stroke-width="1.1" />
<line x1="114.60" y1="399.00" x2="117.60" y2="399.00" stroke="#c07040" stroke-width="1.1" />
<line x1="126.30" y1="392.00" x2="126.30" y2="396.00" stroke="#c07040" stroke-width="1.1" />
<line x1="124.80" y1="392.00" x2="127.80" y2="392.00" stroke="#c07040" stroke-width="1.1" />
<line x1="124.80" y1="396.00" x2="127.80" y2="396.00" stroke="#c07040" stroke-width="1.1" />
<line x1="133.20" y1="391.70" x2="133.20" y2="396.70" stroke="#c07040" stroke-width="1.1" />
<line x1="131.70" y1="391.70" x2="134.70" y2="391.70" stroke="#c07040" stroke-width="1.1" />
<line x1="131.70" y1="396.70" x2="134.70" y2="396.70" stroke="#c07040" stroke-width="1.1" />
<line x1="139.90" y1="387.70" x2="139.90" y2="393.70" stroke="#c07040" stroke-width="1.1" />
<line x1="138.40" y1="387.70" x2="141.40" y2="387.70" stroke="#c07040" stroke-width="1.1" />
<line x1="138.40" y1="393.70" x2="141.40" y2="393.70" stroke="#c07040" stroke-width="1.1" />
<line x1="149.80" y1="380.00" x2="149.80" y2="388.00" stroke="#c07040" stroke-width="1.1" />
<line x1="148.30" y1="380.00" x2="151.30" y2="380.00" stroke="#c07040" stroke-width="1.1" />
<line x1="148.30" y1="388.00" x2="151.30" y2="388.00" stroke="#c07040" stroke-width="1.1" />
<line x1="156.70" y1="358.90" x2="156.70" y2="372.90" stroke="#c07040" stroke-width="1.1" />
<line x1="155.20" y1="358.90" x2="158.20" y2="358.90" stroke="#c07040" stroke-width="1.1" />
<line x1="155.20" y1="372.90" x2="158.20" y2="372.90" stroke="#c07040" stroke-width="1.1" />
<line x1="163.60" y1="350.20" x2="163.60" y2="367.20" stroke="#c07040" stroke-width="1.1" />
<line x1="162.10" y1="350.20" x2="165.10" y2="350.20" stroke="#c07040" stroke-width="1.1" />
<line x1="162.10" y1="367.20" x2="165.10" y2="367.20" stroke="#c07040" stroke-width="1.1" />
<line x1="173.50" y1="340.30" x2="173.50" y2="357.30" stroke="#c07040" stroke-width="1.1" />
<line x1="172.00" y1="340.30" x2="175.00" y2="340.30" stroke="#c07040" stroke-width="1.1" />
<line x1="172.00" y1="357.30" x2="175.00" y2="357.30" stroke="#c07040" stroke-width="1.1" />
<rect x="39.20" y="393.70" width="4.60" height="4.60" fill="#e8761e"/>
<rect x="52.90" y="392.70" width="4.60" height="4.60" fill="#e8761e"/>
<rect x="59.70" y="394.30" width="4.60" height="4.60" fill="#e8761e"/>
<rect x="66.40" y="395.00" width="4.60" height="4.60" fill="#e8761e"/>
<rect x="76.90" y="396.70" width="4.60" height="4.60" fill="#e8761e"/>
<rect x="83.60" y="398.30" width="4.60" height="4.60" fill="#e8761e"/>
<rect x="90.20" y="399.20" width="4.60" height="4.60" fill="#e8761e"/>
<rect x="100.20" y="399.80" width="4.60" height="4.60" fill="#e8761e"/>
<rect x="107.10" y="398.10" width="4.60" height="4.60" fill="#e8761e"/>
<rect x="113.80" y="395.70" width="4.60" height="4.60" fill="#e8761e"/>
<rect x="124.00" y="391.70" width="4.60" height="4.60" fill="#e8761e"/>
<rect x="130.90" y="391.90" width="4.60" height="4.60" fill="#e8761e"/>
<rect x="137.60" y="388.40" width="4.60" height="4.60" fill="#e8761e"/>
<rect x="147.50" y="381.70" width="4.60" height="4.60" fill="#e8761e"/>
<rect x="154.40" y="363.60" width="4.60" height="4.60" fill="#e8761e"/>
<rect x="161.30" y="356.40" width="4.60" height="4.60" fill="#e8761e"/>
<rect x="171.20" y="346.50" width="4.60" height="4.60" fill="#e8761e"/>
<path d="M41.50 395.90L55.20 391.80L62.00 392.90L68.70 390.30L79.20 389.80L85.90 391.30L92.50 391.30L102.50 386.10L109.40 378.90L116.10 374.40L126.30 357.90" fill="none" stroke="#e020e0" stroke-width="1.35" stroke-linejoin="round"/>
<line x1="55.20" y1="390.80" x2="55.20" y2="392.80" stroke="#b050b0" stroke-width="1.1" />
<line x1="53.70" y1="390.80" x2="56.70" y2="390.80" stroke="#b050b0" stroke-width="1.1" />
<line x1="53.70" y1="392.80" x2="56.70" y2="392.80" stroke="#b050b0" stroke-width="1.1" />
<line x1="62.00" y1="391.40" x2="62.00" y2="394.40" stroke="#b050b0" stroke-width="1.1" />
<line x1="60.50" y1="391.40" x2="63.50" y2="391.40" stroke="#b050b0" stroke-width="1.1" />
<line x1="60.50" y1="394.40" x2="63.50" y2="394.40" stroke="#b050b0" stroke-width="1.1" />
<line x1="68.70" y1="388.30" x2="68.70" y2="392.30" stroke="#b050b0" stroke-width="1.1" />
<line x1="67.20" y1="388.30" x2="70.20" y2="388.30" stroke="#b050b0" stroke-width="1.1" />
<line x1="67.20" y1="392.30" x2="70.20" y2="392.30" stroke="#b050b0" stroke-width="1.1" />
<line x1="79.20" y1="386.80" x2="79.20" y2="392.80" stroke="#b050b0" stroke-width="1.1" />
<line x1="77.70" y1="386.80" x2="80.70" y2="386.80" stroke="#b050b0" stroke-width="1.1" />
<line x1="77.70" y1="392.80" x2="80.70" y2="392.80" stroke="#b050b0" stroke-width="1.1" />
<line x1="85.90" y1="388.30" x2="85.90" y2="394.30" stroke="#b050b0" stroke-width="1.1" />
<line x1="84.40" y1="388.30" x2="87.40" y2="388.30" stroke="#b050b0" stroke-width="1.1" />
<line x1="84.40" y1="394.30" x2="87.40" y2="394.30" stroke="#b050b0" stroke-width="1.1" />
<line x1="92.50" y1="388.30" x2="92.50" y2="394.30" stroke="#b050b0" stroke-width="1.1" />
<line x1="91.00" y1="388.30" x2="94.00" y2="388.30" stroke="#b050b0" stroke-width="1.1" />
<line x1="91.00" y1="394.30" x2="94.00" y2="394.30" stroke="#b050b0" stroke-width="1.1" />
<line x1="102.50" y1="381.10" x2="102.50" y2="391.10" stroke="#b050b0" stroke-width="1.1" />
<line x1="101.00" y1="381.10" x2="104.00" y2="381.10" stroke="#b050b0" stroke-width="1.1" />
<line x1="101.00" y1="391.10" x2="104.00" y2="391.10" stroke="#b050b0" stroke-width="1.1" />
<line x1="109.40" y1="373.40" x2="109.40" y2="384.40" stroke="#b050b0" stroke-width="1.1" />
<line x1="107.90" y1="373.40" x2="110.90" y2="373.40" stroke="#b050b0" stroke-width="1.1" />
<line x1="107.90" y1="384.40" x2="110.90" y2="384.40" stroke="#b050b0" stroke-width="1.1" />
<line x1="116.10" y1="368.40" x2="116.10" y2="380.40" stroke="#b050b0" stroke-width="1.1" />
<line x1="114.60" y1="368.40" x2="117.60" y2="368.40" stroke="#b050b0" stroke-width="1.1" />
<line x1="114.60" y1="380.40" x2="117.60" y2="380.40" stroke="#b050b0" stroke-width="1.1" />
<line x1="126.30" y1="345.90" x2="126.30" y2="369.90" stroke="#b050b0" stroke-width="1.1" />
<line x1="124.80" y1="345.90" x2="127.80" y2="345.90" stroke="#b050b0" stroke-width="1.1" />
<line x1="124.80" y1="369.90" x2="127.80" y2="369.90" stroke="#b050b0" stroke-width="1.1" />
<path d="M41.50 393.30L44.10 395.90L41.50 398.50L38.90 395.90Z" fill="#e020e0"/>
<path d="M55.20 389.20L57.80 391.80L55.20 394.40L52.60 391.80Z" fill="#e020e0"/>
<path d="M62.00 390.30L64.60 392.90L62.00 395.50L59.40 392.90Z" fill="#e020e0"/>
<path d="M68.70 387.70L71.30 390.30L68.70 392.90L66.10 390.30Z" fill="#e020e0"/>
<path d="M79.20 387.20L81.80 389.80L79.20 392.40L76.60 389.80Z" fill="#e020e0"/>
<path d="M85.90 388.70L88.50 391.30L85.90 393.90L83.30 391.30Z" fill="#e020e0"/>
<path d="M92.50 388.70L95.10 391.30L92.50 393.90L89.90 391.30Z" fill="#e020e0"/>
<path d="M102.50 383.50L105.10 386.10L102.50 388.70L99.90 386.10Z" fill="#e020e0"/>
<path d="M109.40 376.30L112.00 378.90L109.40 381.50L106.80 378.90Z" fill="#e020e0"/>
<path d="M116.10 371.80L118.70 374.40L116.10 377.00L113.50 374.40Z" fill="#e020e0"/>
<path d="M126.30 355.30L128.90 357.90L126.30 360.50L123.70 357.90Z" fill="#e020e0"/>
<path d="M41.50 395.90L55.20 391.00L62.00 388.10L68.70 385.50L79.20 381.00L85.90 379.80L92.50 372.60L102.50 366.10L109.40 350.80L116.10 350.20L126.30 341.50" fill="none" stroke="#1f8f1f" stroke-width="1.35" stroke-linejoin="round"/>
<line x1="55.20" y1="390.00" x2="55.20" y2="392.00" stroke="#1e6e1e" stroke-width="1.1" />
<line x1="53.70" y1="390.00" x2="56.70" y2="390.00" stroke="#1e6e1e" stroke-width="1.1" />
<line x1="53.70" y1="392.00" x2="56.70" y2="392.00" stroke="#1e6e1e" stroke-width="1.1" />
<line x1="62.00" y1="386.60" x2="62.00" y2="389.60" stroke="#1e6e1e" stroke-width="1.1" />
<line x1="60.50" y1="386.60" x2="63.50" y2="386.60" stroke="#1e6e1e" stroke-width="1.1" />
<line x1="60.50" y1="389.60" x2="63.50" y2="389.60" stroke="#1e6e1e" stroke-width="1.1" />
<line x1="68.70" y1="384.00" x2="68.70" y2="387.00" stroke="#1e6e1e" stroke-width="1.1" />
<line x1="67.20" y1="384.00" x2="70.20" y2="384.00" stroke="#1e6e1e" stroke-width="1.1" />
<line x1="67.20" y1="387.00" x2="70.20" y2="387.00" stroke="#1e6e1e" stroke-width="1.1" />
<line x1="79.20" y1="379.00" x2="79.20" y2="383.00" stroke="#1e6e1e" stroke-width="1.1" />
<line x1="77.70" y1="379.00" x2="80.70" y2="379.00" stroke="#1e6e1e" stroke-width="1.1" />
<line x1="77.70" y1="383.00" x2="80.70" y2="383.00" stroke="#1e6e1e" stroke-width="1.1" />
<line x1="85.90" y1="377.80" x2="85.90" y2="381.80" stroke="#1e6e1e" stroke-width="1.1" />
<line x1="84.40" y1="377.80" x2="87.40" y2="377.80" stroke="#1e6e1e" stroke-width="1.1" />
<line x1="84.40" y1="381.80" x2="87.40" y2="381.80" stroke="#1e6e1e" stroke-width="1.1" />
<line x1="92.50" y1="369.60" x2="92.50" y2="375.60" stroke="#1e6e1e" stroke-width="1.1" />
<line x1="91.00" y1="369.60" x2="94.00" y2="369.60" stroke="#1e6e1e" stroke-width="1.1" />
<line x1="91.00" y1="375.60" x2="94.00" y2="375.60" stroke="#1e6e1e" stroke-width="1.1" />
<line x1="102.50" y1="363.10" x2="102.50" y2="369.10" stroke="#1e6e1e" stroke-width="1.1" />
<line x1="101.00" y1="363.10" x2="104.00" y2="363.10" stroke="#1e6e1e" stroke-width="1.1" />
<line x1="101.00" y1="369.10" x2="104.00" y2="369.10" stroke="#1e6e1e" stroke-width="1.1" />
<line x1="109.40" y1="346.80" x2="109.40" y2="354.80" stroke="#1e6e1e" stroke-width="1.1" />
<line x1="107.90" y1="346.80" x2="110.90" y2="346.80" stroke="#1e6e1e" stroke-width="1.1" />
<line x1="107.90" y1="354.80" x2="110.90" y2="354.80" stroke="#1e6e1e" stroke-width="1.1" />
<line x1="116.10" y1="346.70" x2="116.10" y2="353.70" stroke="#1e6e1e" stroke-width="1.1" />
<line x1="114.60" y1="346.70" x2="117.60" y2="346.70" stroke="#1e6e1e" stroke-width="1.1" />
<line x1="114.60" y1="353.70" x2="117.60" y2="353.70" stroke="#1e6e1e" stroke-width="1.1" />
<line x1="126.30" y1="335.50" x2="126.30" y2="347.50" stroke="#1e6e1e" stroke-width="1.1" />
<line x1="124.80" y1="335.50" x2="127.80" y2="335.50" stroke="#1e6e1e" stroke-width="1.1" />
<line x1="124.80" y1="347.50" x2="127.80" y2="347.50" stroke="#1e6e1e" stroke-width="1.1" />
<rect x="39.20" y="393.60" width="4.60" height="4.60" fill="#1f8f1f"/>
<rect x="52.90" y="388.70" width="4.60" height="4.60" fill="#1f8f1f"/>
<rect x="59.70" y="385.80" width="4.60" height="4.60" fill="#1f8f1f"/>
<rect x="66.40" y="383.20" width="4.60" height="4.60" fill="#1f8f1f"/>
<rect x="76.90" y="378.70" width="4.60" height="4.60" fill="#1f8f1f"/>
<rect x="83.60" y="377.50" width="4.60" height="4.60" fill="#1f8f1f"/>
<rect x="90.20" y="370.30" width="4.60" height="4.60" fill="#1f8f1f"/>
<rect x="100.20" y="363.80" width="4.60" height="4.60" fill="#1f8f1f"/>
<rect x="107.10" y="348.50" width="4.60" height="4.60" fill="#1f8f1f"/>
<rect x="113.80" y="347.90" width="4.60" height="4.60" fill="#1f8f1f"/>
<rect x="124.00" y="339.20" width="4.60" height="4.60" fill="#1f8f1f"/>
<path d="M41.50 395.90L55.20 387.70L62.00 378.20L68.70 365.40L79.20 352.70L85.90 347.90L92.50 326.70" fill="none" stroke="#111111" stroke-width="1.35" stroke-linejoin="round"/>
<line x1="55.20" y1="386.20" x2="55.20" y2="389.20" stroke="#1a1a1a" stroke-width="1.1" />
<line x1="53.70" y1="386.20" x2="56.70" y2="386.20" stroke="#1a1a1a" stroke-width="1.1" />
<line x1="53.70" y1="389.20" x2="56.70" y2="389.20" stroke="#1a1a1a" stroke-width="1.1" />
<line x1="62.00" y1="375.70" x2="62.00" y2="380.70" stroke="#1a1a1a" stroke-width="1.1" />
<line x1="60.50" y1="375.70" x2="63.50" y2="375.70" stroke="#1a1a1a" stroke-width="1.1" />
<line x1="60.50" y1="380.70" x2="63.50" y2="380.70" stroke="#1a1a1a" stroke-width="1.1" />
<line x1="68.70" y1="362.40" x2="68.70" y2="368.40" stroke="#1a1a1a" stroke-width="1.1" />
<line x1="67.20" y1="362.40" x2="70.20" y2="362.40" stroke="#1a1a1a" stroke-width="1.1" />
<line x1="67.20" y1="368.40" x2="70.20" y2="368.40" stroke="#1a1a1a" stroke-width="1.1" />
<line x1="79.20" y1="346.70" x2="79.20" y2="358.70" stroke="#1a1a1a" stroke-width="1.1" />
<line x1="77.70" y1="346.70" x2="80.70" y2="346.70" stroke="#1a1a1a" stroke-width="1.1" />
<line x1="77.70" y1="358.70" x2="80.70" y2="358.70" stroke="#1a1a1a" stroke-width="1.1" />
<line x1="85.90" y1="342.40" x2="85.90" y2="353.40" stroke="#1a1a1a" stroke-width="1.1" />
<line x1="84.40" y1="342.40" x2="87.40" y2="342.40" stroke="#1a1a1a" stroke-width="1.1" />
<line x1="84.40" y1="353.40" x2="87.40" y2="353.40" stroke="#1a1a1a" stroke-width="1.1" />
<line x1="92.50" y1="321.20" x2="92.50" y2="332.20" stroke="#1a1a1a" stroke-width="1.1" />
<line x1="91.00" y1="321.20" x2="94.00" y2="321.20" stroke="#1a1a1a" stroke-width="1.1" />
<line x1="91.00" y1="332.20" x2="94.00" y2="332.20" stroke="#1a1a1a" stroke-width="1.1" />
<path d="M41.50 393.70L43.70 395.90L41.50 398.10L39.30 395.90Z" fill="#111111"/>
<path d="M55.20 385.50L57.40 387.70L55.20 389.90L53.00 387.70Z" fill="#111111"/>
<path d="M62.00 376.00L64.20 378.20L62.00 380.40L59.80 378.20Z" fill="#111111"/>
<path d="M68.70 363.20L70.90 365.40L68.70 367.60L66.50 365.40Z" fill="#111111"/>
<path d="M79.20 350.50L81.40 352.70L79.20 354.90L77.00 352.70Z" fill="#111111"/>
<path d="M85.90 345.70L88.10 347.90L85.90 350.10L83.70 347.90Z" fill="#111111"/>
<path d="M92.50 324.50L94.70 326.70L92.50 328.90L90.30 326.70Z" fill="#111111"/>
<path d="M41.90 444.40L44.60 449.00L42.90 449.00L42.90 453.20L40.90 453.20L40.90 449.00L39.20 449.00Z" fill="#000"/>
<path d="M66.40 444.40L69.10 449.00L67.40 449.00L67.40 453.20L65.40 453.20L65.40 449.00L63.70 449.00Z" fill="#000"/>
<path d="M89.60 444.40L92.30 449.00L90.60 449.00L90.60 453.20L88.60 453.20L88.60 449.00L86.90 449.00Z" fill="#000"/>
<path d="M114.10 444.40L116.80 449.00L115.10 449.00L115.10 453.20L113.10 453.20L113.10 449.00L111.40 449.00Z" fill="#000"/>
<path d="M41.90 455.30L44.60 459.90L42.90 459.90L42.90 463.80L40.90 463.80L40.90 459.90L39.20 459.90Z" fill="#e020e0"/>
<path d="M55.30 455.30L58.00 459.90L56.30 459.90L56.30 463.80L54.30 463.80L54.30 459.90L52.60 459.90Z" fill="#e020e0"/>
<path d="M69.00 455.30L71.70 459.90L70.00 459.90L70.00 463.80L68.00 463.80L68.00 459.90L66.30 459.90Z" fill="#e020e0"/>
<text x="346.15" y="257.89" font-size="9.2" font-weight="bold" text-anchor="middle" fill="#111" font-family="Liberation Sans, sans-serif"  textLength="106" lengthAdjust="spacingAndGlyphs">MDA-MB-231-luciferase</text>
<text x="345.25" y="268.19" font-size="9.2" font-weight="bold" text-anchor="middle" fill="#111" font-family="Liberation Sans, sans-serif"  textLength="110.3" lengthAdjust="spacingAndGlyphs">spontaneous metastasis</text>
<text x="277.90" y="286.37" font-size="8.3" font-weight="normal" text-anchor="middle" fill="#333" font-family="Liberation Sans, sans-serif" stroke="#333" stroke-width="0.25" textLength="18.2" lengthAdjust="spacingAndGlyphs">Days</text>
<text x="310.60" y="286.37" font-size="8.3" font-weight="normal" text-anchor="middle" fill="#333" font-family="Liberation Sans, sans-serif" stroke="#333" stroke-width="0.25">14</text>
<text x="343.90" y="286.37" font-size="8.3" font-weight="normal" text-anchor="middle" fill="#333" font-family="Liberation Sans, sans-serif" stroke="#333" stroke-width="0.25">18</text>
<text x="376.60" y="286.37" font-size="8.3" font-weight="normal" text-anchor="middle" fill="#333" font-family="Liberation Sans, sans-serif" stroke="#333" stroke-width="0.25">22</text>
<text x="287.30" y="308.17" font-size="8.3" font-weight="normal" text-anchor="end" fill="#222" font-family="Liberation Sans, sans-serif" stroke="#222" stroke-width="0.25" textLength="31.2" lengthAdjust="spacingAndGlyphs">Negative</text>
<text x="287.30" y="318.37" font-size="8.3" font-weight="normal" text-anchor="end" fill="#222" font-family="Liberation Sans, sans-serif" stroke="#222" stroke-width="0.25" textLength="26.0" lengthAdjust="spacingAndGlyphs">Control</text>
<text x="287.30" y="328.97" font-size="8.3" font-weight="normal" text-anchor="end" fill="#222" font-family="Liberation Sans, sans-serif" stroke="#222" stroke-width="0.25" textLength="16.6" lengthAdjust="spacingAndGlyphs">mAb</text>
<text x="291.50" y="364.67" font-size="8.3" font-weight="normal" text-anchor="end" fill="#222" font-family="Liberation Sans, sans-serif" stroke="#222" stroke-width="0.25" textLength="35.8" lengthAdjust="spacingAndGlyphs">Paclitaxel</text>
<text x="290.80" y="415.17" font-size="8.3" font-weight="normal" text-anchor="end" fill="#222" font-family="Liberation Sans, sans-serif" stroke="#222" stroke-width="0.25" textLength="32.1" lengthAdjust="spacingAndGlyphs">ABT-165</text>
<text x="291.10" y="454.87" font-size="8.3" font-weight="normal" text-anchor="end" fill="#222" font-family="Liberation Sans, sans-serif" stroke="#222" stroke-width="0.25" textLength="38.4" lengthAdjust="spacingAndGlyphs">ABT-165 +</text>
<text x="290.50" y="464.57" font-size="8.3" font-weight="normal" text-anchor="end" fill="#222" font-family="Liberation Sans, sans-serif" stroke="#222" stroke-width="0.25" textLength="36.3" lengthAdjust="spacingAndGlyphs">Paclitaxel</text>
<defs><filter id="bl" x="-20%" y="-20%" width="140%" height="140%"><feGaussianBlur stdDeviation="0.9"/></filter><filter id="bl2" x="-30%" y="-30%" width="160%" height="160%"><feGaussianBlur stdDeviation="0.7"/></filter><linearGradient id="cbar" x1="0" y1="1" x2="0" y2="0"><stop offset="0" stop-color="#6a10d8"/><stop offset="0.035" stop-color="#4a10e8"/><stop offset="0.1" stop-color="#2020f0"/><stop offset="0.17" stop-color="#2044f5"/><stop offset="0.25" stop-color="#0090f5"/><stop offset="0.29" stop-color="#00b8f0"/><stop offset="0.33" stop-color="#00e0e0"/><stop offset="0.41" stop-color="#00d8a0"/><stop offset="0.49" stop-color="#00dc30"/><stop offset="0.58" stop-color="#40e010"/><stop offset="0.68" stop-color="#90f000"/><stop offset="0.735" stop-color="#c8f000"/><stop offset="0.78" stop-color="#f0f000"/><stop offset="0.835" stop-color="#f5b000"/><stop offset="0.89" stop-color="#f08000"/><stop offset="0.95" stop-color="#ec3000"/><stop offset="1" stop-color="#e00000"/></linearGradient><linearGradient id="head" x1="0" y1="0" x2="0" y2="1"><stop offset="0" stop-color="#888888"/><stop offset="0.5" stop-color="#a4a4a4"/><stop offset="1" stop-color="#bdbdbd"/></linearGradient><radialGradient id="body" cx="0.5" cy="0.3" r="0.75"><stop offset="0" stop-color="#f4f4f4"/><stop offset="0.6" stop-color="#e2e2e2"/><stop offset="1" stop-color="#aaaaaa"/></radialGradient><linearGradient id="bgtop" x1="0" y1="0" x2="0" y2="1"><stop offset="0" stop-color="#5a5a5a"/><stop offset="1" stop-color="#383838"/></linearGradient></defs>
<clipPath id="c00"><rect x="296.70" y="289.40" width="30.10" height="44.40"/></clipPath>
<g clip-path="url(#c00)">
<rect x="296.70" y="289.40" width="30.10" height="44.40" fill="#262626"/>
<g filter="url(#bl)">
<rect x="298.70" y="289.40" width="26.10" height="17.76" fill="#333333"/>
<ellipse cx="300.70" cy="298.40" rx="2.8" ry="6.5" fill="#7a7a7a"/>
<ellipse cx="322.80" cy="298.40" rx="2.8" ry="6.5" fill="#7a7a7a"/>
<path d="M297.30 336.80L297.70 309.40Q299.20 305.40 304.25 304.40L316.25 304.40Q324.30 305.40 325.80 309.40L326.20 336.80Z" fill="url(#body)"/>
<path d="M310.25 290.90C314.75 290.90 316.45 298.40 317.05 306.40L303.45 306.40C304.05 298.40 305.75 290.90 310.25 290.90Z" fill="url(#head)"/>
</g></g>
<clipPath id="c01"><rect x="329.30" y="289.40" width="30.50" height="44.40"/></clipPath>
<g clip-path="url(#c01)">
<rect x="329.30" y="289.40" width="30.50" height="44.40" fill="#262626"/>
<g filter="url(#bl)">
<rect x="331.30" y="289.40" width="26.50" height="17.76" fill="#333333"/>
<ellipse cx="333.30" cy="298.40" rx="2.8" ry="6.5" fill="#7a7a7a"/>
<ellipse cx="355.80" cy="298.40" rx="2.8" ry="6.5" fill="#7a7a7a"/>
<path d="M329.90 336.80L330.30 309.40Q331.80 305.40 338.15 304.40L350.15 304.40Q357.30 305.40 358.80 309.40L359.20 336.80Z" fill="url(#body)"/>
<path d="M344.15 290.90C348.65 290.90 350.35 298.40 350.95 306.40L337.35 306.40C337.95 298.40 339.65 290.90 344.15 290.90Z" fill="url(#head)"/>
</g></g>
<clipPath id="c02"><rect x="362.40" y="289.40" width="30.50" height="44.40"/></clipPath>
<g clip-path="url(#c02)">
<rect x="362.40" y="289.40" width="30.50" height="44.40" fill="#262626"/>
<g filter="url(#bl)">
<rect x="364.40" y="289.40" width="26.50" height="17.76" fill="#333333"/>
<ellipse cx="366.40" cy="298.40" rx="2.8" ry="6.5" fill="#7a7a7a"/>
<ellipse cx="388.90" cy="298.40" rx="2.8" ry="6.5" fill="#7a7a7a"/>
<path d="M363.00 336.80L363.40 309.40Q364.90 305.40 374.15 304.40L386.15 304.40Q390.40 305.40 391.90 309.40L392.30 336.80Z" fill="url(#body)"/>
<path d="M380.15 290.90C384.65 290.90 386.35 298.40 386.95 306.40L373.35 306.40C373.95 298.40 375.65 290.90 380.15 290.90Z" fill="url(#head)"/>
</g></g>
<clipPath id="c10"><rect x="296.70" y="336.50" width="30.10" height="44.70"/></clipPath>
<g clip-path="url(#c10)">
<rect x="296.70" y="336.50" width="30.10" height="44.70" fill="#262626"/>
<g filter="url(#bl)">
<rect x="298.70" y="336.50" width="26.10" height="17.88" fill="#333333"/>
<ellipse cx="300.70" cy="345.50" rx="2.8" ry="6.5" fill="#7a7a7a"/>
<ellipse cx="322.80" cy="345.50" rx="2.8" ry="6.5" fill="#7a7a7a"/>
<path d="M297.30 384.20L297.70 356.50Q299.20 352.50 305.25 351.50L317.25 351.50Q324.30 352.50 325.80 356.50L326.20 384.20Z" fill="url(#body)"/>
<path d="M311.25 338.00C315.75 338.00 317.45 345.50 318.05 353.50L304.45 353.50C305.05 345.50 306.75 338.00 311.25 338.00Z" fill="url(#head)"/>
</g></g>
<clipPath id="c11"><rect x="329.30" y="336.50" width="30.50" height="44.70"/></clipPath>
<g clip-path="url(#c11)">
<rect x="329.30" y="336.50" width="30.50" height="44.70" fill="#262626"/>
<g filter="url(#bl)">
<rect x="331.30" y="336.50" width="26.50" height="17.88" fill="#333333"/>
<ellipse cx="333.30" cy="345.50" rx="2.8" ry="6.5" fill="#7a7a7a"/>
<ellipse cx="355.80" cy="345.50" rx="2.8" ry="6.5" fill="#7a7a7a"/>
<path d="M329.90 384.20L330.30 356.50Q331.80 352.50 338.55 351.50L350.55 351.50Q357.30 352.50 358.80 356.50L359.20 384.20Z" fill="url(#body)"/>
<path d="M344.55 338.00C349.05 338.00 350.75 345.50 351.35 353.50L337.75 353.50C338.35 345.50 340.05 338.00 344.55 338.00Z" fill="url(#head)"/>
</g></g>
<clipPath id="c12"><rect x="362.40" y="336.50" width="30.50" height="44.70"/></clipPath>
<g clip-path="url(#c12)">
<rect x="362.40" y="336.50" width="30.50" height="44.70" fill="#262626"/>
<g filter="url(#bl)">
<rect x="364.40" y="336.50" width="26.50" height="17.88" fill="#333333"/>
<ellipse cx="366.40" cy="345.50" rx="2.8" ry="6.5" fill="#7a7a7a"/>
<ellipse cx="388.90" cy="345.50" rx="2.8" ry="6.5" fill="#7a7a7a"/>
<path d="M363.00 384.20L363.40 356.50Q364.90 352.50 372.65 351.50L384.65 351.50Q390.40 352.50 391.90 356.50L392.30 384.20Z" fill="url(#body)"/>
<path d="M378.65 338.00C383.15 338.00 384.85 345.50 385.45 353.50L371.85 353.50C372.45 345.50 374.15 338.00 378.65 338.00Z" fill="url(#head)"/>
</g></g>
<clipPath id="c20"><rect x="296.70" y="383.50" width="30.10" height="44.60"/></clipPath>
<g clip-path="url(#c20)">
<rect x="296.70" y="383.50" width="30.10" height="44.60" fill="#262626"/>
<g filter="url(#bl)">
<rect x="298.70" y="383.50" width="26.10" height="17.84" fill="#333333"/>
<ellipse cx="300.70" cy="392.50" rx="2.8" ry="6.5" fill="#7a7a7a"/>
<ellipse cx="322.80" cy="392.50" rx="2.8" ry="6.5" fill="#7a7a7a"/>
<path d="M297.30 431.10L297.70 403.50Q299.20 399.50 305.25 398.50L317.25 398.50Q324.30 399.50 325.80 403.50L326.20 431.10Z" fill="url(#body)"/>
<path d="M311.25 385.00C315.75 385.00 317.45 392.50 318.05 400.50L304.45 400.50C305.05 392.50 306.75 385.00 311.25 385.00Z" fill="url(#head)"/>
</g></g>
<clipPath id="c21"><rect x="329.30" y="383.50" width="30.50" height="44.60"/></clipPath>
<g clip-path="url(#c21)">
<rect x="329.30" y="383.50" width="30.50" height="44.60" fill="#262626"/>
<g filter="url(#bl)">
<rect x="331.30" y="383.50" width="26.50" height="17.84" fill="#333333"/>
<ellipse cx="333.30" cy="392.50" rx="2.8" ry="6.5" fill="#7a7a7a"/>
<ellipse cx="355.80" cy="392.50" rx="2.8" ry="6.5" fill="#7a7a7a"/>
<path d="M329.90 431.10L330.30 403.50Q331.80 399.50 337.55 398.50L349.55 398.50Q357.30 399.50 358.80 403.50L359.20 431.10Z" fill="url(#body)"/>
<path d="M343.55 385.00C348.05 385.00 349.75 392.50 350.35 400.50L336.75 400.50C337.35 392.50 339.05 385.00 343.55 385.00Z" fill="url(#head)"/>
</g></g>
<clipPath id="c22"><rect x="362.40" y="383.50" width="30.50" height="44.60"/></clipPath>
<g clip-path="url(#c22)">
<rect x="362.40" y="383.50" width="30.50" height="44.60" fill="#262626"/>
<g filter="url(#bl)">
<rect x="364.40" y="383.50" width="26.50" height="17.84" fill="#333333"/>
<ellipse cx="366.40" cy="392.50" rx="2.8" ry="6.5" fill="#7a7a7a"/>
<ellipse cx="388.90" cy="392.50" rx="2.8" ry="6.5" fill="#7a7a7a"/>
<path d="M363.00 431.10L363.40 403.50Q364.90 399.50 372.15 398.50L384.15 398.50Q390.40 399.50 391.90 403.50L392.30 431.10Z" fill="url(#body)"/>
<path d="M378.15 385.00C382.65 385.00 384.35 392.50 384.95 400.50L371.35 400.50C371.95 392.50 373.65 385.00 378.15 385.00Z" fill="url(#head)"/>
</g></g>
<clipPath id="c30"><rect x="296.70" y="430.40" width="30.10" height="45.20"/></clipPath>
<g clip-path="url(#c30)">
<rect x="296.70" y="430.40" width="30.10" height="45.20" fill="#262626"/>
<g filter="url(#bl)">
<rect x="298.70" y="430.40" width="26.10" height="18.08" fill="#333333"/>
<ellipse cx="300.70" cy="439.40" rx="2.8" ry="6.5" fill="#7a7a7a"/>
<ellipse cx="322.80" cy="439.40" rx="2.8" ry="6.5" fill="#7a7a7a"/>
<path d="M297.30 478.60L297.70 450.40Q299.20 446.40 306.25 445.40L318.25 445.40Q324.30 446.40 325.80 450.40L326.20 478.60Z" fill="url(#body)"/>
<path d="M312.25 431.90C316.75 431.90 318.45 439.40 319.05 447.40L305.45 447.40C306.05 439.40 307.75 431.90 312.25 431.90Z" fill="url(#head)"/>
</g></g>
<clipPath id="c31"><rect x="329.30" y="430.40" width="30.50" height="45.20"/></clipPath>
<g clip-path="url(#c31)">
<rect x="329.30" y="430.40" width="30.50" height="45.20" fill="#262626"/>
<g filter="url(#bl)">
<rect x="331.30" y="430.40" width="26.50" height="18.08" fill="#333333"/>
<ellipse cx="333.30" cy="439.40" rx="2.8" ry="6.5" fill="#7a7a7a"/>
<ellipse cx="355.80" cy="439.40" rx="2.8" ry="6.5" fill="#7a7a7a"/>
<path d="M329.90 478.60L330.30 450.40Q331.80 446.40 337.55 445.40L349.55 445.40Q357.30 446.40 358.80 450.40L359.20 478.60Z" fill="url(#body)"/>
<path d="M343.55 431.90C348.05 431.90 349.75 439.40 350.35 447.40L336.75 447.40C337.35 439.40 339.05 431.90 343.55 431.90Z" fill="url(#head)"/>
</g></g>
<clipPath id="c32"><rect x="362.40" y="430.40" width="30.50" height="45.20"/></clipPath>
<g clip-path="url(#c32)">
<rect x="362.40" y="430.40" width="30.50" height="45.20" fill="#262626"/>
<g filter="url(#bl)">
<rect x="364.40" y="430.40" width="26.50" height="18.08" fill="#333333"/>
<ellipse cx="366.40" cy="439.40" rx="2.8" ry="6.5" fill="#7a7a7a"/>
<ellipse cx="388.90" cy="439.40" rx="2.8" ry="6.5" fill="#7a7a7a"/>
<path d="M363.00 478.60L363.40 450.40Q364.90 446.40 368.65 445.40L380.65 445.40Q390.40 446.40 391.90 450.40L392.30 478.60Z" fill="url(#body)"/>
<path d="M374.65 431.90C379.15 431.90 380.85 439.40 381.45 447.40L367.85 447.40C368.45 439.40 370.15 431.90 374.65 431.90Z" fill="url(#head)"/>
</g></g>
<path d="M298.5 333.5L298.8 322Q300 319.8 302.5 320.2Q304.5 321 306 322.5Q308 319 312.5 318.6Q318 318.5 320.5 321Q322.8 326 322.3 333.5Z" fill="#6618ec" filter="url(#bl2)"/>
<path d="M329.5 333.8L329.5 313Q331 311 336 311Q344 310.5 350 312.5Q355 314 357.5 317L358.5 333.8Z" fill="#5818ec" filter="url(#bl2)"/>
<path d="M331 333L331.5 318Q338 315.5 346 316Q353 317 356 320L356.5 333Z" fill="#3a20ff" filter="url(#bl2)"/>
<ellipse cx="335.6" cy="323.7" rx="2.6" ry="3.0" fill="#10a0ff" filter="url(#bl2)"/>
<ellipse cx="335.6" cy="323.7" rx="1.3" ry="1.6" fill="#20e0e0" filter="url(#bl2)"/>
<ellipse cx="346.6" cy="325.6" rx="5.3" ry="5.2" fill="#10c8ff" filter="url(#bl2)"/>
<ellipse cx="346.6" cy="325.6" rx="3.6" ry="3.5" fill="#10e070" filter="url(#bl2)"/>
<ellipse cx="346.8" cy="325.8" rx="2.2" ry="2.2" fill="#00e020" filter="url(#bl2)"/>
<path d="M363.5 333.8L364 313Q370 310.5 378 310.8Q386 311 390.5 313L391.5 333.8Z" fill="#5818ec" filter="url(#bl2)"/>
<path d="M365 333L365.5 316.5Q372 315 380 315.3Q387 316 389 318L389.5 333Z" fill="#2c28ff" filter="url(#bl2)"/>
<ellipse cx="374.5" cy="325.3" rx="10.5" ry="6.3" fill="#10b8ff" filter="url(#bl2)"/>
<ellipse cx="370.0" cy="324.8" rx="3.6" ry="4.0" fill="#20e050" filter="url(#bl2)"/>
<ellipse cx="379.1" cy="325.6" rx="6.3" ry="5.3" fill="#40e030" filter="url(#bl2)"/>
<ellipse cx="379.1" cy="325.6" rx="5.0" ry="4.3" fill="#f0f000" filter="url(#bl2)"/>
<ellipse cx="379.1" cy="325.6" rx="4.2" ry="3.5" fill="#ee1010" filter="url(#bl2)"/>
<circle cx="337.9" cy="366.3" r="3.0" fill="#5c14ea" filter="url(#bl2)"/>
<ellipse cx="370.6" cy="366.3" rx="4.6" ry="5.0" fill="#5616ea" filter="url(#bl2)"/>
<ellipse cx="370.8" cy="366.5" rx="2.6" ry="2.8" fill="#3a1ef2" filter="url(#bl2)"/>
<ellipse cx="336.1" cy="409.7" rx="3.8" ry="4.0" fill="#5816ea" filter="url(#bl2)"/>
<ellipse cx="370.3" cy="413.5" rx="7.2" ry="8.7" fill="#5212e0" filter="url(#bl2)"/>
<ellipse cx="370.6" cy="413.4" rx="5.6" ry="6.8" fill="#2424f4" filter="url(#bl2)"/>
<ellipse cx="371.2" cy="413.2" rx="2.6" ry="3.0" fill="#2e9cff" filter="url(#bl2)"/>
<rect x="399.4" y="289.5" width="6.5" height="186.6" fill="url(#cbar)"/>
<line x1="405.90" y1="289.50" x2="409.20" y2="289.50" stroke="#666" stroke-width="0.7" />
<line x1="405.90" y1="296.96" x2="408.00" y2="296.96" stroke="#666" stroke-width="0.7" />
<line x1="405.90" y1="304.43" x2="408.00" y2="304.43" stroke="#666" stroke-width="0.7" />
<line x1="405.90" y1="311.89" x2="408.00" y2="311.89" stroke="#666" stroke-width="0.7" />
<line x1="405.90" y1="319.36" x2="408.00" y2="319.36" stroke="#666" stroke-width="0.7" />
<line x1="405.90" y1="326.82" x2="409.20" y2="326.82" stroke="#666" stroke-width="0.7" />
<line x1="405.90" y1="334.28" x2="408.00" y2="334.28" stroke="#666" stroke-width="0.7" />
<line x1="405.90" y1="341.75" x2="408.00" y2="341.75" stroke="#666" stroke-width="0.7" />
<line x1="405.90" y1="349.21" x2="408.00" y2="349.21" stroke="#666" stroke-width="0.7" />
<line x1="405.90" y1="356.68" x2="408.00" y2="356.68" stroke="#666" stroke-width="0.7" />
<line x1="405.90" y1="364.14" x2="409.20" y2="364.14" stroke="#666" stroke-width="0.7" />
<line x1="405.90" y1="371.60" x2="408.00" y2="371.60" stroke="#666" stroke-width="0.7" />
<line x1="405.90" y1="379.07" x2="408.00" y2="379.07" stroke="#666" stroke-width="0.7" />
<line x1="405.90" y1="386.53" x2="408.00" y2="386.53" stroke="#666" stroke-width="0.7" />
<line x1="405.90" y1="394.00" x2="408.00" y2="394.00" stroke="#666" stroke-width="0.7" />
<line x1="405.90" y1="401.46" x2="409.20" y2="401.46" stroke="#666" stroke-width="0.7" />
<line x1="405.90" y1="408.92" x2="408.00" y2="408.92" stroke="#666" stroke-width="0.7" />
<line x1="405.90" y1="416.39" x2="408.00" y2="416.39" stroke="#666" stroke-width="0.7" />
<line x1="405.90" y1="423.85" x2="408.00" y2="423.85" stroke="#666" stroke-width="0.7" />
<line x1="405.90" y1="431.32" x2="408.00" y2="431.32" stroke="#666" stroke-width="0.7" />
<line x1="405.90" y1="438.78" x2="409.20" y2="438.78" stroke="#666" stroke-width="0.7" />
<line x1="405.90" y1="446.24" x2="408.00" y2="446.24" stroke="#666" stroke-width="0.7" />
<line x1="405.90" y1="453.71" x2="408.00" y2="453.71" stroke="#666" stroke-width="0.7" />
<line x1="405.90" y1="461.17" x2="408.00" y2="461.17" stroke="#666" stroke-width="0.7" />
<line x1="405.90" y1="468.64" x2="408.00" y2="468.64" stroke="#666" stroke-width="0.7" />
<line x1="405.90" y1="476.10" x2="409.20" y2="476.10" stroke="#666" stroke-width="0.7" />
<text x="398.00" y="282.38" font-size="8.6" font-weight="normal" text-anchor="start" fill="#333" font-family="Liberation Sans, sans-serif" stroke="#333" stroke-width="0.25" textLength="52.7" lengthAdjust="spacingAndGlyphs">Luminescence</text>
<text x="412.80" y="294.68" font-size="8.6" font-weight="normal" text-anchor="start" fill="#333" font-family="Liberation Sans, sans-serif" stroke="#333" stroke-width="0.25">1.0</text>
<text x="412.80" y="330.58" font-size="8.6" font-weight="normal" text-anchor="start" fill="#333" font-family="Liberation Sans, sans-serif" stroke="#333" stroke-width="0.25">0.8</text>
<text x="412.80" y="367.08" font-size="8.6" font-weight="normal" text-anchor="start" fill="#333" font-family="Liberation Sans, sans-serif" stroke="#333" stroke-width="0.25">0.6</text>
<text x="412.80" y="405.38" font-size="8.6" font-weight="normal" text-anchor="start" fill="#333" font-family="Liberation Sans, sans-serif" stroke="#333" stroke-width="0.25">0.4</text>
<text x="412.80" y="444.88" font-size="8.6" font-weight="normal" text-anchor="start" fill="#333" font-family="Liberation Sans, sans-serif" stroke="#333" stroke-width="0.25">0.2</text>
<text x="433.10" y="388.24" font-size="9.6" font-weight="normal" text-anchor="start" fill="#333" font-family="Liberation Serif, serif" >x10</text>
<text x="448.00" y="383.08" font-size="8.6" font-weight="normal" text-anchor="start" fill="#333" font-family="Liberation Serif, serif" >6</text>
<text x="378.50" y="488.88" font-size="8.6" font-weight="normal" text-anchor="start" fill="#333" font-family="Liberation Sans, sans-serif" stroke="#333" stroke-width="0.25" textLength="35" lengthAdjust="spacingAndGlyphs">Radiance</text>
<text x="378.50" y="499.68" font-size="8.6" font-weight="normal" text-anchor="start" fill="#333" font-family="Liberation Sans, sans-serif" stroke="#333" stroke-width="0.25" textLength="55.3" lengthAdjust="spacingAndGlyphs">(p/sec/cm²/sr)</text>
</svg>
</body></html>
